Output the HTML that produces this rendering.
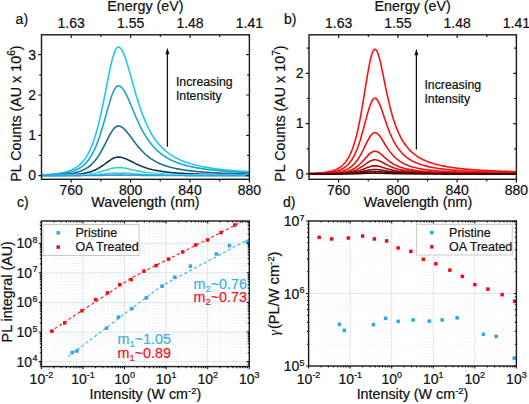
<!DOCTYPE html>
<html><head><meta charset="utf-8"><style>html,body{margin:0;padding:0;background:#fff;}svg{display:block;}</style></head><body>
<svg width="529" height="404" viewBox="0 0 529 404" font-family='"Liberation Sans", sans-serif'>
<rect width="529" height="404" fill="#fff"/>
<clipPath id="clipa"><rect x="41.5" y="34.8" width="207.9" height="144.5"/></clipPath>
<g clip-path="url(#clipa)" fill="none" stroke-width="1.6" stroke-linejoin="round">
<path d="M38.5,174.9 L39.6,174.9 L40.6,174.9 L41.6,174.8 L42.7,174.8 L43.7,174.7 L44.8,174.7 L45.8,174.6 L46.8,174.5 L47.9,174.5 L48.9,174.4 L50.0,174.3 L51.0,174.2 L52.0,174.1 L53.1,174.0 L54.1,173.9 L55.2,173.8 L56.2,173.7 L57.2,173.5 L58.3,173.4 L59.3,173.2 L60.4,173.1 L61.4,172.9 L62.4,172.7 L63.5,172.4 L64.5,172.2 L65.6,171.9 L66.6,171.7 L67.6,171.3 L68.7,171.0 L69.7,170.6 L70.8,170.2 L71.8,169.8 L72.8,169.3 L73.9,168.8 L74.9,168.2 L76.0,167.6 L77.0,166.9 L78.0,166.1 L79.1,165.3 L80.1,164.4 L81.1,163.4 L82.2,162.3 L83.2,161.1 L84.3,159.8 L85.3,158.4 L86.3,156.8 L87.4,155.1 L88.4,153.2 L89.5,151.1 L90.5,148.9 L91.5,146.5 L92.6,143.8 L93.6,141.0 L94.7,137.9 L95.7,134.5 L96.7,130.9 L97.8,127.1 L98.8,123.0 L99.9,118.6 L100.9,114.0 L101.9,109.2 L103.0,104.2 L104.0,99.1 L105.1,93.8 L106.1,88.5 L107.1,83.1 L108.2,77.8 L109.2,72.7 L110.3,67.8 L111.3,63.2 L112.3,59.1 L113.4,55.4 L114.4,52.3 L115.5,49.9 L116.5,48.2 L117.5,47.2 L118.6,47.1 L119.6,47.5 L120.7,48.4 L121.7,49.8 L122.7,51.7 L123.8,53.9 L124.8,56.6 L125.8,59.5 L126.9,62.7 L127.9,66.2 L129.0,69.7 L130.0,73.4 L131.0,77.1 L132.1,80.9 L133.1,84.6 L134.2,88.3 L135.2,92.0 L136.2,95.5 L137.3,99.0 L138.3,102.3 L139.4,105.5 L140.4,108.6 L141.4,111.5 L142.5,114.3 L143.5,117.0 L144.6,119.6 L145.6,122.0 L146.6,124.3 L147.7,126.5 L148.7,128.6 L149.8,130.6 L150.8,132.5 L151.8,134.3 L152.9,136.0 L153.9,137.6 L155.0,139.1 L156.0,140.5 L157.0,141.9 L158.1,143.2 L159.1,144.4 L160.2,145.6 L161.2,146.7 L162.2,147.8 L163.3,148.8 L164.3,149.7 L165.3,150.7 L166.4,151.5 L167.4,152.3 L168.5,153.1 L169.5,153.9 L170.5,154.6 L171.6,155.3 L172.6,155.9 L173.7,156.6 L174.7,157.2 L175.7,157.7 L176.8,158.3 L177.8,158.8 L178.9,159.3 L179.9,159.8 L180.9,160.2 L182.0,160.7 L183.0,161.1 L184.1,161.5 L185.1,161.9 L186.1,162.3 L187.2,162.6 L188.2,163.0 L189.3,163.3 L190.3,163.6 L191.3,163.9 L192.4,164.2 L193.4,164.5 L194.5,164.8 L195.5,165.0 L196.5,165.3 L197.6,165.5 L198.6,165.8 L199.7,166.0 L200.7,166.2 L201.7,166.5 L202.8,166.7 L203.8,166.9 L204.9,167.1 L205.9,167.2 L206.9,167.4 L208.0,167.6 L209.0,167.8 L210.0,167.9 L211.1,168.1 L212.1,168.3 L213.2,168.4 L214.2,168.6 L215.2,168.7 L216.3,168.8 L217.3,169.0 L218.4,169.1 L219.4,169.2 L220.4,169.3 L221.5,169.5 L222.5,169.6 L223.6,169.7 L224.6,169.8 L225.6,169.9 L226.7,170.0 L227.7,170.1 L228.8,170.2 L229.8,170.3 L230.8,170.4 L231.9,170.5 L232.9,170.6 L234.0,170.7 L235.0,170.8 L236.0,170.8 L237.1,170.9 L238.1,171.0 L239.2,171.1 L240.2,171.1 L241.2,171.2 L242.3,171.3 L243.3,171.4 L244.4,171.4 L245.4,171.5 L246.4,171.6 L247.5,171.6 L248.5,171.7 L249.5,171.7 L250.6,171.8 L251.6,171.9" stroke="#1ccaec"/>
<path d="M38.5,175.1 L39.6,175.1 L40.6,175.1 L41.6,175.0 L42.7,175.0 L43.7,175.0 L44.8,174.9 L45.8,174.9 L46.8,174.9 L47.9,174.8 L48.9,174.8 L50.0,174.7 L51.0,174.6 L52.0,174.6 L53.1,174.5 L54.1,174.4 L55.2,174.3 L56.2,174.3 L57.2,174.2 L58.3,174.1 L59.3,173.9 L60.4,173.8 L61.4,173.7 L62.4,173.6 L63.5,173.4 L64.5,173.2 L65.6,173.0 L66.6,172.8 L67.6,172.6 L68.7,172.4 L69.7,172.1 L70.8,171.8 L71.8,171.5 L72.8,171.2 L73.9,170.8 L74.9,170.4 L76.0,170.0 L77.0,169.5 L78.0,169.0 L79.1,168.4 L80.1,167.8 L81.1,167.1 L82.2,166.3 L83.2,165.5 L84.3,164.5 L85.3,163.5 L86.3,162.4 L87.4,161.2 L88.4,159.9 L89.5,158.5 L90.5,156.9 L91.5,155.2 L92.6,153.4 L93.6,151.4 L94.7,149.2 L95.7,146.9 L96.7,144.4 L97.8,141.7 L98.8,138.8 L99.9,135.8 L100.9,132.6 L101.9,129.2 L103.0,125.7 L104.0,122.1 L105.1,118.4 L106.1,114.7 L107.1,110.9 L108.2,107.2 L109.2,103.7 L110.3,100.2 L111.3,97.0 L112.3,94.1 L113.4,91.6 L114.4,89.4 L115.5,87.7 L116.5,86.5 L117.5,85.9 L118.6,85.7 L119.6,86.0 L120.7,86.6 L121.7,87.5 L122.7,88.7 L123.8,90.1 L124.8,91.8 L125.8,93.7 L126.9,95.8 L127.9,98.1 L129.0,100.4 L130.0,102.8 L131.0,105.3 L132.1,107.8 L133.1,110.3 L134.2,112.8 L135.2,115.2 L136.2,117.6 L137.3,120.0 L138.3,122.3 L139.4,124.5 L140.4,126.6 L141.4,128.7 L142.5,130.6 L143.5,132.5 L144.6,134.3 L145.6,136.1 L146.6,137.7 L147.7,139.3 L148.7,140.8 L149.8,142.2 L150.8,143.5 L151.8,144.8 L152.9,146.1 L153.9,147.2 L155.0,148.3 L156.0,149.4 L157.0,150.4 L158.1,151.3 L159.1,152.2 L160.2,153.1 L161.2,153.9 L162.2,154.7 L163.3,155.4 L164.3,156.1 L165.3,156.8 L166.4,157.4 L167.4,158.0 L168.5,158.6 L169.5,159.2 L170.5,159.7 L171.6,160.2 L172.6,160.7 L173.7,161.2 L174.7,161.6 L175.7,162.0 L176.8,162.5 L177.8,162.8 L178.9,163.2 L179.9,163.6 L180.9,163.9 L182.0,164.3 L183.0,164.6 L184.1,164.9 L185.1,165.2 L186.1,165.4 L187.2,165.7 L188.2,166.0 L189.3,166.2 L190.3,166.5 L191.3,166.7 L192.4,166.9 L193.4,167.1 L194.5,167.4 L195.5,167.6 L196.5,167.7 L197.6,167.9 L198.6,168.1 L199.7,168.3 L200.7,168.5 L201.7,168.6 L202.8,168.8 L203.8,168.9 L204.9,169.1 L205.9,169.2 L206.9,169.4 L208.0,169.5 L209.0,169.6 L210.0,169.7 L211.1,169.9 L212.1,170.0 L213.2,170.1 L214.2,170.2 L215.2,170.3 L216.3,170.4 L217.3,170.5 L218.4,170.6 L219.4,170.7 L220.4,170.8 L221.5,170.9 L222.5,171.0 L223.6,171.1 L224.6,171.2 L225.6,171.2 L226.7,171.3 L227.7,171.4 L228.8,171.5 L229.8,171.6 L230.8,171.6 L231.9,171.7 L232.9,171.8 L234.0,171.8 L235.0,171.9 L236.0,172.0 L237.1,172.0 L238.1,172.1 L239.2,172.1 L240.2,172.2 L241.2,172.2 L242.3,172.3 L243.3,172.4 L244.4,172.4 L245.4,172.5 L246.4,172.5 L247.5,172.5 L248.5,172.6 L249.5,172.6 L250.6,172.7 L251.6,172.7" stroke="#1ea2c8"/>
<path d="M38.5,175.3 L39.6,175.3 L40.6,175.3 L41.6,175.3 L42.7,175.3 L43.7,175.3 L44.8,175.2 L45.8,175.2 L46.8,175.2 L47.9,175.2 L48.9,175.1 L50.0,175.1 L51.0,175.1 L52.0,175.0 L53.1,175.0 L54.1,175.0 L55.2,174.9 L56.2,174.9 L57.2,174.8 L58.3,174.7 L59.3,174.7 L60.4,174.6 L61.4,174.5 L62.4,174.5 L63.5,174.4 L64.5,174.3 L65.6,174.2 L66.6,174.1 L67.6,174.0 L68.7,173.8 L69.7,173.7 L70.8,173.5 L71.8,173.4 L72.8,173.2 L73.9,173.0 L74.9,172.7 L76.0,172.5 L77.0,172.2 L78.0,171.9 L79.1,171.6 L80.1,171.3 L81.1,170.9 L82.2,170.5 L83.2,170.0 L84.3,169.5 L85.3,168.9 L86.3,168.3 L87.4,167.7 L88.4,167.0 L89.5,166.2 L90.5,165.3 L91.5,164.4 L92.6,163.3 L93.6,162.2 L94.7,161.0 L95.7,159.8 L96.7,158.4 L97.8,156.9 L98.8,155.3 L99.9,153.6 L100.9,151.9 L101.9,150.0 L103.0,148.1 L104.0,146.1 L105.1,144.1 L106.1,142.0 L107.1,139.9 L108.2,137.9 L109.2,135.9 L110.3,134.0 L111.3,132.3 L112.3,130.7 L113.4,129.3 L114.4,128.1 L115.5,127.1 L116.5,126.5 L117.5,126.1 L118.6,126.0 L119.6,126.2 L120.7,126.5 L121.7,127.1 L122.7,127.7 L123.8,128.6 L124.8,129.6 L125.8,130.7 L126.9,131.9 L127.9,133.2 L129.0,134.5 L130.0,135.9 L131.0,137.3 L132.1,138.7 L133.1,140.1 L134.2,141.5 L135.2,142.9 L136.2,144.3 L137.3,145.6 L138.3,146.9 L139.4,148.1 L140.4,149.3 L141.4,150.4 L142.5,151.5 L143.5,152.5 L144.6,153.5 L145.6,154.5 L146.6,155.4 L147.7,156.2 L148.7,157.0 L149.8,157.8 L150.8,158.6 L151.8,159.3 L152.9,159.9 L153.9,160.5 L155.0,161.1 L156.0,161.7 L157.0,162.2 L158.1,162.7 L159.1,163.2 L160.2,163.7 L161.2,164.1 L162.2,164.5 L163.3,164.9 L164.3,165.3 L165.3,165.7 L166.4,166.0 L167.4,166.3 L168.5,166.7 L169.5,167.0 L170.5,167.2 L171.6,167.5 L172.6,167.8 L173.7,168.0 L174.7,168.3 L175.7,168.5 L176.8,168.7 L177.8,168.9 L178.9,169.1 L179.9,169.3 L180.9,169.5 L182.0,169.6 L183.0,169.8 L184.1,170.0 L185.1,170.1 L186.1,170.3 L187.2,170.4 L188.2,170.6 L189.3,170.7 L190.3,170.8 L191.3,170.9 L192.4,171.1 L193.4,171.2 L194.5,171.3 L195.5,171.4 L196.5,171.5 L197.6,171.6 L198.6,171.7 L199.7,171.8 L200.7,171.9 L201.7,171.9 L202.8,172.0 L203.8,172.1 L204.9,172.2 L205.9,172.3 L206.9,172.3 L208.0,172.4 L209.0,172.5 L210.0,172.5 L211.1,172.6 L212.1,172.7 L213.2,172.7 L214.2,172.8 L215.2,172.8 L216.3,172.9 L217.3,172.9 L218.4,173.0 L219.4,173.1 L220.4,173.1 L221.5,173.1 L222.5,173.2 L223.6,173.2 L224.6,173.3 L225.6,173.3 L226.7,173.4 L227.7,173.4 L228.8,173.4 L229.8,173.5 L230.8,173.5 L231.9,173.6 L232.9,173.6 L234.0,173.6 L235.0,173.7 L236.0,173.7 L237.1,173.7 L238.1,173.8 L239.2,173.8 L240.2,173.8 L241.2,173.8 L242.3,173.9 L243.3,173.9 L244.4,173.9 L245.4,174.0 L246.4,174.0 L247.5,174.0 L248.5,174.0 L249.5,174.1 L250.6,174.1 L251.6,174.1" stroke="#176f8e"/>
<path d="M38.5,175.5 L39.6,175.5 L40.6,175.5 L41.6,175.5 L42.7,175.5 L43.7,175.5 L44.8,175.5 L45.8,175.5 L46.8,175.4 L47.9,175.4 L48.9,175.4 L50.0,175.4 L51.0,175.4 L52.0,175.4 L53.1,175.4 L54.1,175.4 L55.2,175.3 L56.2,175.3 L57.2,175.3 L58.3,175.3 L59.3,175.3 L60.4,175.2 L61.4,175.2 L62.4,175.2 L63.5,175.1 L64.5,175.1 L65.6,175.1 L66.6,175.0 L67.6,175.0 L68.7,174.9 L69.7,174.9 L70.8,174.8 L71.8,174.8 L72.8,174.7 L73.9,174.6 L74.9,174.5 L76.0,174.4 L77.0,174.3 L78.0,174.2 L79.1,174.1 L80.1,174.0 L81.1,173.8 L82.2,173.7 L83.2,173.5 L84.3,173.3 L85.3,173.1 L86.3,172.9 L87.4,172.6 L88.4,172.4 L89.5,172.1 L90.5,171.7 L91.5,171.4 L92.6,171.0 L93.6,170.6 L94.7,170.2 L95.7,169.7 L96.7,169.2 L97.8,168.6 L98.8,168.0 L99.9,167.4 L100.9,166.7 L101.9,166.0 L103.0,165.3 L104.0,164.6 L105.1,163.8 L106.1,163.0 L107.1,162.3 L108.2,161.5 L109.2,160.8 L110.3,160.1 L111.3,159.4 L112.3,158.8 L113.4,158.3 L114.4,157.8 L115.5,157.5 L116.5,157.2 L117.5,157.1 L118.6,157.1 L119.6,157.1 L120.7,157.2 L121.7,157.4 L122.7,157.7 L123.8,158.0 L124.8,158.4 L125.8,158.8 L126.9,159.2 L127.9,159.7 L129.0,160.2 L130.0,160.7 L131.0,161.3 L132.1,161.8 L133.1,162.3 L134.2,162.9 L135.2,163.4 L136.2,163.9 L137.3,164.4 L138.3,164.9 L139.4,165.3 L140.4,165.8 L141.4,166.2 L142.5,166.6 L143.5,167.0 L144.6,167.3 L145.6,167.7 L146.6,168.0 L147.7,168.4 L148.7,168.7 L149.8,169.0 L150.8,169.2 L151.8,169.5 L152.9,169.7 L153.9,170.0 L155.0,170.2 L156.0,170.4 L157.0,170.6 L158.1,170.8 L159.1,171.0 L160.2,171.1 L161.2,171.3 L162.2,171.5 L163.3,171.6 L164.3,171.8 L165.3,171.9 L166.4,172.0 L167.4,172.1 L168.5,172.3 L169.5,172.4 L170.5,172.5 L171.6,172.6 L172.6,172.7 L173.7,172.8 L174.7,172.9 L175.7,172.9 L176.8,173.0 L177.8,173.1 L178.9,173.2 L179.9,173.2 L180.9,173.3 L182.0,173.4 L183.0,173.4 L184.1,173.5 L185.1,173.6 L186.1,173.6 L187.2,173.7 L188.2,173.7 L189.3,173.8 L190.3,173.8 L191.3,173.9 L192.4,173.9 L193.4,173.9 L194.5,174.0 L195.5,174.0 L196.5,174.1 L197.6,174.1 L198.6,174.1 L199.7,174.2 L200.7,174.2 L201.7,174.2 L202.8,174.3 L203.8,174.3 L204.9,174.3 L205.9,174.4 L206.9,174.4 L208.0,174.4 L209.0,174.4 L210.0,174.5 L211.1,174.5 L212.1,174.5 L213.2,174.5 L214.2,174.5 L215.2,174.6 L216.3,174.6 L217.3,174.6 L218.4,174.6 L219.4,174.6 L220.4,174.7 L221.5,174.7 L222.5,174.7 L223.6,174.7 L224.6,174.7 L225.6,174.7 L226.7,174.8 L227.7,174.8 L228.8,174.8 L229.8,174.8 L230.8,174.8 L231.9,174.8 L232.9,174.8 L234.0,174.9 L235.0,174.9 L236.0,174.9 L237.1,174.9 L238.1,174.9 L239.2,174.9 L240.2,174.9 L241.2,174.9 L242.3,175.0 L243.3,175.0 L244.4,175.0 L245.4,175.0 L246.4,175.0 L247.5,175.0 L248.5,175.0 L249.5,175.0 L250.6,175.0 L251.6,175.0" stroke="#0d3552"/>
<path d="M38.5,175.6 L39.6,175.6 L40.6,175.6 L41.6,175.6 L42.7,175.5 L43.7,175.5 L44.8,175.5 L45.8,175.5 L46.8,175.5 L47.9,175.5 L48.9,175.5 L50.0,175.5 L51.0,175.5 L52.0,175.5 L53.1,175.5 L54.1,175.5 L55.2,175.5 L56.2,175.5 L57.2,175.5 L58.3,175.5 L59.3,175.5 L60.4,175.4 L61.4,175.4 L62.4,175.4 L63.5,175.4 L64.5,175.4 L65.6,175.4 L66.6,175.4 L67.6,175.3 L68.7,175.3 L69.7,175.3 L70.8,175.3 L71.8,175.2 L72.8,175.2 L73.9,175.2 L74.9,175.1 L76.0,175.1 L77.0,175.1 L78.0,175.0 L79.1,175.0 L80.1,174.9 L81.1,174.8 L82.2,174.8 L83.2,174.7 L84.3,174.6 L85.3,174.5 L86.3,174.4 L87.4,174.3 L88.4,174.2 L89.5,174.1 L90.5,173.9 L91.5,173.8 L92.6,173.6 L93.6,173.4 L94.7,173.2 L95.7,173.0 L96.7,172.8 L97.8,172.6 L98.8,172.3 L99.9,172.0 L100.9,171.7 L101.9,171.4 L103.0,171.1 L104.0,170.8 L105.1,170.5 L106.1,170.1 L107.1,169.8 L108.2,169.5 L109.2,169.1 L110.3,168.8 L111.3,168.6 L112.3,168.3 L113.4,168.1 L114.4,167.9 L115.5,167.7 L116.5,167.6 L117.5,167.6 L118.6,167.5 L119.6,167.6 L120.7,167.6 L121.7,167.7 L122.7,167.8 L123.8,168.0 L124.8,168.2 L125.8,168.4 L126.9,168.6 L127.9,168.8 L129.0,169.0 L130.0,169.3 L131.0,169.5 L132.1,169.8 L133.1,170.0 L134.2,170.2 L135.2,170.5 L136.2,170.7 L137.3,170.9 L138.3,171.1 L139.4,171.3 L140.4,171.5 L141.4,171.7 L142.5,171.9 L143.5,172.0 L144.6,172.2 L145.6,172.4 L146.6,172.5 L147.7,172.6 L148.7,172.8 L149.8,172.9 L150.8,173.0 L151.8,173.1 L152.9,173.2 L153.9,173.3 L155.0,173.4 L156.0,173.5 L157.0,173.6 L158.1,173.7 L159.1,173.7 L160.2,173.8 L161.2,173.9 L162.2,173.9 L163.3,174.0 L164.3,174.1 L165.3,174.1 L166.4,174.2 L167.4,174.2 L168.5,174.3 L169.5,174.3 L170.5,174.3 L171.6,174.4 L172.6,174.4 L173.7,174.5 L174.7,174.5 L175.7,174.5 L176.8,174.6 L177.8,174.6 L178.9,174.6 L179.9,174.7 L180.9,174.7 L182.0,174.7 L183.0,174.7 L184.1,174.8 L185.1,174.8 L186.1,174.8 L187.2,174.8 L188.2,174.8 L189.3,174.9 L190.3,174.9 L191.3,174.9 L192.4,174.9 L193.4,174.9 L194.5,175.0 L195.5,175.0 L196.5,175.0 L197.6,175.0 L198.6,175.0 L199.7,175.0 L200.7,175.0 L201.7,175.1 L202.8,175.1 L203.8,175.1 L204.9,175.1 L205.9,175.1 L206.9,175.1 L208.0,175.1 L209.0,175.1 L210.0,175.1 L211.1,175.2 L212.1,175.2 L213.2,175.2 L214.2,175.2 L215.2,175.2 L216.3,175.2 L217.3,175.2 L218.4,175.2 L219.4,175.2 L220.4,175.2 L221.5,175.2 L222.5,175.2 L223.6,175.3 L224.6,175.3 L225.6,175.3 L226.7,175.3 L227.7,175.3 L228.8,175.3 L229.8,175.3 L230.8,175.3 L231.9,175.3 L232.9,175.3 L234.0,175.3 L235.0,175.3 L236.0,175.3 L237.1,175.3 L238.1,175.3 L239.2,175.3 L240.2,175.3 L241.2,175.3 L242.3,175.3 L243.3,175.3 L244.4,175.4 L245.4,175.4 L246.4,175.4 L247.5,175.4 L248.5,175.4 L249.5,175.4 L250.6,175.4 L251.6,175.4" stroke="#26d6c4"/>
<path d="M38.5,175.6 L39.6,175.6 L40.6,175.6 L41.6,175.6 L42.7,175.6 L43.7,175.6 L44.8,175.6 L45.8,175.6 L46.8,175.6 L47.9,175.6 L48.9,175.6 L50.0,175.6 L51.0,175.6 L52.0,175.6 L53.1,175.5 L54.1,175.5 L55.2,175.5 L56.2,175.5 L57.2,175.5 L58.3,175.5 L59.3,175.5 L60.4,175.5 L61.4,175.5 L62.4,175.5 L63.5,175.5 L64.5,175.5 L65.6,175.5 L66.6,175.5 L67.6,175.5 L68.7,175.4 L69.7,175.4 L70.8,175.4 L71.8,175.4 L72.8,175.4 L73.9,175.4 L74.9,175.4 L76.0,175.3 L77.0,175.3 L78.0,175.3 L79.1,175.3 L80.1,175.2 L81.1,175.2 L82.2,175.2 L83.2,175.1 L84.3,175.1 L85.3,175.0 L86.3,175.0 L87.4,174.9 L88.4,174.9 L89.5,174.8 L90.5,174.7 L91.5,174.6 L92.6,174.6 L93.6,174.5 L94.7,174.4 L95.7,174.2 L96.7,174.1 L97.8,174.0 L98.8,173.9 L99.9,173.7 L100.9,173.6 L101.9,173.4 L103.0,173.3 L104.0,173.1 L105.1,172.9 L106.1,172.7 L107.1,172.6 L108.2,172.4 L109.2,172.2 L110.3,172.1 L111.3,171.9 L112.3,171.8 L113.4,171.6 L114.4,171.5 L115.5,171.5 L116.5,171.4 L117.5,171.4 L118.6,171.4 L119.6,171.4 L120.7,171.4 L121.7,171.5 L122.7,171.5 L123.8,171.6 L124.8,171.7 L125.8,171.8 L126.9,171.9 L127.9,172.0 L129.0,172.2 L130.0,172.3 L131.0,172.4 L132.1,172.5 L133.1,172.7 L134.2,172.8 L135.2,172.9 L136.2,173.0 L137.3,173.1 L138.3,173.2 L139.4,173.4 L140.4,173.5 L141.4,173.6 L142.5,173.6 L143.5,173.7 L144.6,173.8 L145.6,173.9 L146.6,174.0 L147.7,174.0 L148.7,174.1 L149.8,174.2 L150.8,174.2 L151.8,174.3 L152.9,174.3 L153.9,174.4 L155.0,174.4 L156.0,174.5 L157.0,174.5 L158.1,174.6 L159.1,174.6 L160.2,174.7 L161.2,174.7 L162.2,174.7 L163.3,174.8 L164.3,174.8 L165.3,174.8 L166.4,174.8 L167.4,174.9 L168.5,174.9 L169.5,174.9 L170.5,174.9 L171.6,175.0 L172.6,175.0 L173.7,175.0 L174.7,175.0 L175.7,175.0 L176.8,175.1 L177.8,175.1 L178.9,175.1 L179.9,175.1 L180.9,175.1 L182.0,175.1 L183.0,175.1 L184.1,175.2 L185.1,175.2 L186.1,175.2 L187.2,175.2 L188.2,175.2 L189.3,175.2 L190.3,175.2 L191.3,175.2 L192.4,175.2 L193.4,175.3 L194.5,175.3 L195.5,175.3 L196.5,175.3 L197.6,175.3 L198.6,175.3 L199.7,175.3 L200.7,175.3 L201.7,175.3 L202.8,175.3 L203.8,175.3 L204.9,175.3 L205.9,175.3 L206.9,175.3 L208.0,175.4 L209.0,175.4 L210.0,175.4 L211.1,175.4 L212.1,175.4 L213.2,175.4 L214.2,175.4 L215.2,175.4 L216.3,175.4 L217.3,175.4 L218.4,175.4 L219.4,175.4 L220.4,175.4 L221.5,175.4 L222.5,175.4 L223.6,175.4 L224.6,175.4 L225.6,175.4 L226.7,175.4 L227.7,175.4 L228.8,175.4 L229.8,175.4 L230.8,175.4 L231.9,175.4 L232.9,175.4 L234.0,175.4 L235.0,175.4 L236.0,175.5 L237.1,175.5 L238.1,175.5 L239.2,175.5 L240.2,175.5 L241.2,175.5 L242.3,175.5 L243.3,175.5 L244.4,175.5 L245.4,175.5 L246.4,175.5 L247.5,175.5 L248.5,175.5 L249.5,175.5 L250.6,175.5 L251.6,175.5" stroke="#f3f3cf"/>
<path d="M38.5,175.6 L39.6,175.6 L40.6,175.6 L41.6,175.6 L42.7,175.6 L43.7,175.6 L44.8,175.6 L45.8,175.6 L46.8,175.6 L47.9,175.6 L48.9,175.6 L50.0,175.6 L51.0,175.6 L52.0,175.6 L53.1,175.6 L54.1,175.6 L55.2,175.6 L56.2,175.6 L57.2,175.6 L58.3,175.6 L59.3,175.6 L60.4,175.6 L61.4,175.5 L62.4,175.5 L63.5,175.5 L64.5,175.5 L65.6,175.5 L66.6,175.5 L67.6,175.5 L68.7,175.5 L69.7,175.5 L70.8,175.5 L71.8,175.5 L72.8,175.5 L73.9,175.5 L74.9,175.5 L76.0,175.4 L77.0,175.4 L78.0,175.4 L79.1,175.4 L80.1,175.4 L81.1,175.4 L82.2,175.3 L83.2,175.3 L84.3,175.3 L85.3,175.3 L86.3,175.2 L87.4,175.2 L88.4,175.2 L89.5,175.1 L90.5,175.1 L91.5,175.1 L92.6,175.0 L93.6,174.9 L94.7,174.9 L95.7,174.8 L96.7,174.8 L97.8,174.7 L98.8,174.6 L99.9,174.5 L100.9,174.4 L101.9,174.4 L103.0,174.3 L104.0,174.2 L105.1,174.1 L106.1,174.0 L107.1,173.9 L108.2,173.8 L109.2,173.7 L110.3,173.6 L111.3,173.5 L112.3,173.4 L113.4,173.3 L114.4,173.3 L115.5,173.2 L116.5,173.2 L117.5,173.2 L118.6,173.2 L119.6,173.2 L120.7,173.2 L121.7,173.2 L122.7,173.3 L123.8,173.3 L124.8,173.4 L125.8,173.4 L126.9,173.5 L127.9,173.6 L129.0,173.6 L130.0,173.7 L131.0,173.8 L132.1,173.8 L133.1,173.9 L134.2,174.0 L135.2,174.1 L136.2,174.1 L137.3,174.2 L138.3,174.3 L139.4,174.3 L140.4,174.4 L141.4,174.4 L142.5,174.5 L143.5,174.5 L144.6,174.6 L145.6,174.6 L146.6,174.7 L147.7,174.7 L148.7,174.7 L149.8,174.8 L150.8,174.8 L151.8,174.9 L152.9,174.9 L153.9,174.9 L155.0,174.9 L156.0,175.0 L157.0,175.0 L158.1,175.0 L159.1,175.0 L160.2,175.1 L161.2,175.1 L162.2,175.1 L163.3,175.1 L164.3,175.1 L165.3,175.2 L166.4,175.2 L167.4,175.2 L168.5,175.2 L169.5,175.2 L170.5,175.2 L171.6,175.2 L172.6,175.2 L173.7,175.3 L174.7,175.3 L175.7,175.3 L176.8,175.3 L177.8,175.3 L178.9,175.3 L179.9,175.3 L180.9,175.3 L182.0,175.3 L183.0,175.3 L184.1,175.3 L185.1,175.4 L186.1,175.4 L187.2,175.4 L188.2,175.4 L189.3,175.4 L190.3,175.4 L191.3,175.4 L192.4,175.4 L193.4,175.4 L194.5,175.4 L195.5,175.4 L196.5,175.4 L197.6,175.4 L198.6,175.4 L199.7,175.4 L200.7,175.4 L201.7,175.4 L202.8,175.4 L203.8,175.4 L204.9,175.4 L205.9,175.5 L206.9,175.5 L208.0,175.5 L209.0,175.5 L210.0,175.5 L211.1,175.5 L212.1,175.5 L213.2,175.5 L214.2,175.5 L215.2,175.5 L216.3,175.5 L217.3,175.5 L218.4,175.5 L219.4,175.5 L220.4,175.5 L221.5,175.5 L222.5,175.5 L223.6,175.5 L224.6,175.5 L225.6,175.5 L226.7,175.5 L227.7,175.5 L228.8,175.5 L229.8,175.5 L230.8,175.5 L231.9,175.5 L232.9,175.5 L234.0,175.5 L235.0,175.5 L236.0,175.5 L237.1,175.5 L238.1,175.5 L239.2,175.5 L240.2,175.5 L241.2,175.5 L242.3,175.5 L243.3,175.5 L244.4,175.5 L245.4,175.5 L246.4,175.5 L247.5,175.5 L248.5,175.5 L249.5,175.5 L250.6,175.5 L251.6,175.5" stroke="#48b6ee"/>
<path d="M38.5,175.6 L39.6,175.6 L40.6,175.6 L41.6,175.6 L42.7,175.6 L43.7,175.6 L44.8,175.6 L45.8,175.6 L46.8,175.6 L47.9,175.6 L48.9,175.6 L50.0,175.6 L51.0,175.6 L52.0,175.6 L53.1,175.6 L54.1,175.6 L55.2,175.6 L56.2,175.6 L57.2,175.6 L58.3,175.6 L59.3,175.6 L60.4,175.6 L61.4,175.6 L62.4,175.6 L63.5,175.6 L64.5,175.6 L65.6,175.6 L66.6,175.6 L67.6,175.6 L68.7,175.6 L69.7,175.6 L70.8,175.6 L71.8,175.6 L72.8,175.6 L73.9,175.6 L74.9,175.6 L76.0,175.6 L77.0,175.6 L78.0,175.6 L79.1,175.6 L80.1,175.6 L81.1,175.6 L82.2,175.5 L83.2,175.5 L84.3,175.5 L85.3,175.5 L86.3,175.5 L87.4,175.5 L88.4,175.5 L89.5,175.5 L90.5,175.5 L91.5,175.5 L92.6,175.5 L93.6,175.5 L94.7,175.5 L95.7,175.4 L96.7,175.4 L97.8,175.4 L98.8,175.4 L99.9,175.4 L100.9,175.4 L101.9,175.4 L103.0,175.3 L104.0,175.3 L105.1,175.3 L106.1,175.3 L107.1,175.3 L108.2,175.2 L109.2,175.2 L110.3,175.2 L111.3,175.2 L112.3,175.2 L113.4,175.1 L114.4,175.1 L115.5,175.1 L116.5,175.1 L117.5,175.1 L118.6,175.1 L119.6,175.1 L120.7,175.1 L121.7,175.1 L122.7,175.1 L123.8,175.1 L124.8,175.2 L125.8,175.2 L126.9,175.2 L127.9,175.2 L129.0,175.2 L130.0,175.2 L131.0,175.2 L132.1,175.2 L133.1,175.3 L134.2,175.3 L135.2,175.3 L136.2,175.3 L137.3,175.3 L138.3,175.3 L139.4,175.3 L140.4,175.4 L141.4,175.4 L142.5,175.4 L143.5,175.4 L144.6,175.4 L145.6,175.4 L146.6,175.4 L147.7,175.4 L148.7,175.4 L149.8,175.4 L150.8,175.4 L151.8,175.5 L152.9,175.5 L153.9,175.5 L155.0,175.5 L156.0,175.5 L157.0,175.5 L158.1,175.5 L159.1,175.5 L160.2,175.5 L161.2,175.5 L162.2,175.5 L163.3,175.5 L164.3,175.5 L165.3,175.5 L166.4,175.5 L167.4,175.5 L168.5,175.5 L169.5,175.5 L170.5,175.5 L171.6,175.5 L172.6,175.5 L173.7,175.5 L174.7,175.5 L175.7,175.5 L176.8,175.5 L177.8,175.5 L178.9,175.5 L179.9,175.5 L180.9,175.5 L182.0,175.5 L183.0,175.5 L184.1,175.5 L185.1,175.6 L186.1,175.6 L187.2,175.6 L188.2,175.6 L189.3,175.6 L190.3,175.6 L191.3,175.6 L192.4,175.6 L193.4,175.6 L194.5,175.6 L195.5,175.6 L196.5,175.6 L197.6,175.6 L198.6,175.6 L199.7,175.6 L200.7,175.6 L201.7,175.6 L202.8,175.6 L203.8,175.6 L204.9,175.6 L205.9,175.6 L206.9,175.6 L208.0,175.6 L209.0,175.6 L210.0,175.6 L211.1,175.6 L212.1,175.6 L213.2,175.6 L214.2,175.6 L215.2,175.6 L216.3,175.6 L217.3,175.6 L218.4,175.6 L219.4,175.6 L220.4,175.6 L221.5,175.6 L222.5,175.6 L223.6,175.6 L224.6,175.6 L225.6,175.6 L226.7,175.6 L227.7,175.6 L228.8,175.6 L229.8,175.6 L230.8,175.6 L231.9,175.6 L232.9,175.6 L234.0,175.6 L235.0,175.6 L236.0,175.6 L237.1,175.6 L238.1,175.6 L239.2,175.6 L240.2,175.6 L241.2,175.6 L242.3,175.6 L243.3,175.6 L244.4,175.6 L245.4,175.6 L246.4,175.6 L247.5,175.6 L248.5,175.6 L249.5,175.6 L250.6,175.6 L251.6,175.6" stroke="#1ea6ec"/>
</g>
<rect x="41.5" y="34.8" width="207.9" height="144.5" fill="none" stroke="#1a1a1a" stroke-width="1.4"/>
<path d="M71.2,179.3v3.2 M71.2,34.8v3.2 M100.9,179.3v2.2 M100.9,34.8v2.2 M130.6,179.3v3.2 M130.6,34.8v3.2 M160.3,179.3v2.2 M160.3,34.8v2.2 M190.0,179.3v3.2 M190.0,34.8v3.2 M219.7,179.3v2.2 M219.7,34.8v2.2 M249.4,179.3v3.2 M249.4,34.8v3.2 M41.5,175.6h-3.2 M249.4,175.6h-3.2 M41.5,135.3h-3.2 M249.4,135.3h-3.2 M41.5,95.0h-3.2 M249.4,95.0h-3.2 M41.5,54.7h-3.2 M249.4,54.7h-3.2 M41.5,155.4h-2.2 M249.4,155.4h-2.2 M41.5,115.2h-2.2 M249.4,115.2h-2.2 M41.5,74.8h-2.2 M249.4,74.8h-2.2" stroke="#1a1a1a" stroke-width="1.2" fill="none"/>
<text x="71.2" y="195.3" font-size="14" text-anchor="middle" fill="#111" stroke="#111" stroke-width="0.22" >760</text>
<text x="130.6" y="195.3" font-size="14" text-anchor="middle" fill="#111" stroke="#111" stroke-width="0.22" >800</text>
<text x="190" y="195.3" font-size="14" text-anchor="middle" fill="#111" stroke="#111" stroke-width="0.22" >840</text>
<text x="249.4" y="195.3" font-size="14" text-anchor="middle" fill="#111" stroke="#111" stroke-width="0.22" >880</text>
<text x="71.2" y="28" font-size="14" text-anchor="middle" fill="#111" stroke="#111" stroke-width="0.22" >1.63</text>
<text x="130.6" y="28" font-size="14" text-anchor="middle" fill="#111" stroke="#111" stroke-width="0.22" >1.55</text>
<text x="190" y="28" font-size="14" text-anchor="middle" fill="#111" stroke="#111" stroke-width="0.22" >1.48</text>
<text x="249.4" y="28" font-size="14" text-anchor="middle" fill="#111" stroke="#111" stroke-width="0.22" >1.41</text>
<text x="36" y="180.4" font-size="14" text-anchor="end" fill="#111" stroke="#111" stroke-width="0.22" >0</text>
<text x="36" y="140.1" font-size="14" text-anchor="end" fill="#111" stroke="#111" stroke-width="0.22" >1</text>
<text x="36" y="99.8" font-size="14" text-anchor="end" fill="#111" stroke="#111" stroke-width="0.22" >2</text>
<text x="36" y="59.5" font-size="14" text-anchor="end" fill="#111" stroke="#111" stroke-width="0.22" >3</text>
<text x="145.45" y="206.6" font-size="14.3" text-anchor="middle" fill="#111" stroke="#111" stroke-width="0.22" >Wavelength (nm)</text>
<text x="145.4" y="11" font-size="14.3" text-anchor="middle" fill="#111" stroke="#111" stroke-width="0.22" >Energy (eV)</text>
<text x="15.6" y="23.5" font-size="14" text-anchor="start" fill="#111" stroke="#111" stroke-width="0.22" >a)</text>
<text transform="translate(20.6,113.6) rotate(-90)" font-size="14.3" text-anchor="middle" fill="#111" stroke="#111" stroke-width="0.22">PL Counts (AU x 10<tspan font-size="10" dy="-5.8">6</tspan><tspan dy="5.8">)</tspan></text>
<path d="M167.4,146.7V52.7" stroke="#111" stroke-width="1.3"/>
<path d="M167.4,47.7l-2,6.5h4z" fill="#111"/>
<text x="175.9" y="85.5" font-size="12.3" text-anchor="start" fill="#111" stroke="#111" stroke-width="0.22" >Increasing</text>
<text x="175.9" y="99.9" font-size="12.3" text-anchor="start" fill="#111" stroke="#111" stroke-width="0.22" >Intensity</text>
<clipPath id="clipb"><rect x="309" y="34.8" width="207.4" height="144.5"/></clipPath>
<g clip-path="url(#clipb)" fill="none" stroke-width="1.6" stroke-linejoin="round">
<path d="M306.0,173.5 L307.1,173.5 L308.1,173.5 L309.1,173.4 L310.2,173.4 L311.2,173.4 L312.3,173.3 L313.3,173.3 L314.3,173.2 L315.4,173.2 L316.4,173.1 L317.4,173.0 L318.5,173.0 L319.5,172.9 L320.6,172.8 L321.6,172.7 L322.6,172.6 L323.7,172.5 L324.7,172.3 L325.7,172.2 L326.8,172.0 L327.8,171.8 L328.9,171.6 L329.9,171.4 L330.9,171.2 L332.0,170.9 L333.0,170.6 L334.0,170.2 L335.1,169.8 L336.1,169.4 L337.1,168.9 L338.2,168.4 L339.2,167.8 L340.3,167.1 L341.3,166.3 L342.3,165.5 L343.4,164.5 L344.4,163.4 L345.4,162.2 L346.5,160.8 L347.5,159.2 L348.6,157.5 L349.6,155.5 L350.6,153.4 L351.7,150.9 L352.7,148.2 L353.7,145.2 L354.8,141.8 L355.8,138.1 L356.9,134.1 L357.9,129.6 L358.9,124.8 L360.0,119.6 L361.0,114.0 L362.0,108.1 L363.1,102.0 L364.1,95.6 L365.1,89.2 L366.2,82.7 L367.2,76.4 L368.3,70.4 L369.3,64.8 L370.3,59.9 L371.4,55.8 L372.4,52.5 L373.4,50.3 L374.5,49.3 L375.5,49.3 L376.6,50.4 L377.6,52.5 L378.6,55.5 L379.7,59.2 L380.7,63.5 L381.7,68.3 L382.8,73.3 L383.8,78.4 L384.8,83.5 L385.9,88.6 L386.9,93.5 L388.0,98.2 L389.0,102.7 L390.0,107.0 L391.1,111.0 L392.1,114.7 L393.1,118.2 L394.2,121.5 L395.2,124.5 L396.3,127.3 L397.3,129.9 L398.3,132.4 L399.4,134.6 L400.4,136.7 L401.4,138.6 L402.5,140.5 L403.5,142.1 L404.6,143.7 L405.6,145.2 L406.6,146.5 L407.7,147.8 L408.7,149.0 L409.7,150.1 L410.8,151.1 L411.8,152.1 L412.8,153.0 L413.9,153.9 L414.9,154.7 L416.0,155.4 L417.0,156.2 L418.0,156.8 L419.1,157.5 L420.1,158.1 L421.1,158.7 L422.2,159.2 L423.2,159.7 L424.3,160.2 L425.3,160.7 L426.3,161.1 L427.4,161.5 L428.4,161.9 L429.4,162.3 L430.5,162.6 L431.5,163.0 L432.6,163.3 L433.6,163.6 L434.6,163.9 L435.7,164.2 L436.7,164.5 L437.7,164.8 L438.8,165.0 L439.8,165.2 L440.8,165.5 L441.9,165.7 L442.9,165.9 L444.0,166.1 L445.0,166.3 L446.0,166.5 L447.1,166.7 L448.1,166.9 L449.1,167.0 L450.2,167.2 L451.2,167.4 L452.3,167.5 L453.3,167.6 L454.3,167.8 L455.4,167.9 L456.4,168.1 L457.4,168.2 L458.5,168.3 L459.5,168.4 L460.6,168.5 L461.6,168.7 L462.6,168.8 L463.7,168.9 L464.7,169.0 L465.7,169.1 L466.8,169.2 L467.8,169.3 L468.8,169.3 L469.9,169.4 L470.9,169.5 L472.0,169.6 L473.0,169.7 L474.0,169.8 L475.1,169.8 L476.1,169.9 L477.1,170.0 L478.2,170.0 L479.2,170.1 L480.3,170.2 L481.3,170.2 L482.3,170.3 L483.4,170.4 L484.4,170.4 L485.4,170.5 L486.5,170.5 L487.5,170.6 L488.5,170.6 L489.6,170.7 L490.6,170.7 L491.7,170.8 L492.7,170.8 L493.7,170.9 L494.8,170.9 L495.8,171.0 L496.8,171.0 L497.9,171.1 L498.9,171.1 L500.0,171.1 L501.0,171.2 L502.0,171.2 L503.1,171.3 L504.1,171.3 L505.1,171.3 L506.2,171.4 L507.2,171.4 L508.3,171.4 L509.3,171.5 L510.3,171.5 L511.4,171.5 L512.4,171.6 L513.4,171.6 L514.5,171.6 L515.5,171.7 L516.5,171.7 L517.6,171.7 L518.6,171.8" stroke="#ff1010"/>
<path d="M306.0,173.7 L307.1,173.7 L308.1,173.6 L309.1,173.6 L310.2,173.6 L311.2,173.6 L312.3,173.5 L313.3,173.5 L314.3,173.5 L315.4,173.5 L316.4,173.4 L317.4,173.4 L318.5,173.3 L319.5,173.3 L320.6,173.2 L321.6,173.2 L322.6,173.1 L323.7,173.0 L324.7,173.0 L325.7,172.9 L326.8,172.8 L327.8,172.7 L328.9,172.5 L329.9,172.4 L330.9,172.2 L332.0,172.1 L333.0,171.9 L334.0,171.7 L335.1,171.4 L336.1,171.2 L337.1,170.9 L338.2,170.6 L339.2,170.2 L340.3,169.8 L341.3,169.3 L342.3,168.8 L343.4,168.2 L344.4,167.5 L345.4,166.8 L346.5,165.9 L347.5,165.0 L348.6,163.9 L349.6,162.8 L350.6,161.4 L351.7,160.0 L352.7,158.3 L353.7,156.5 L354.8,154.4 L355.8,152.2 L356.9,149.7 L357.9,147.0 L358.9,144.1 L360.0,140.9 L361.0,137.6 L362.0,134.0 L363.1,130.2 L364.1,126.4 L365.1,122.5 L366.2,118.6 L367.2,114.7 L368.3,111.1 L369.3,107.7 L370.3,104.7 L371.4,102.2 L372.4,100.2 L373.4,98.9 L374.5,98.3 L375.5,98.3 L376.6,99.0 L377.6,100.3 L378.6,102.1 L379.7,104.3 L380.7,106.9 L381.7,109.8 L382.8,112.8 L383.8,115.9 L384.8,119.0 L385.9,122.1 L386.9,125.1 L388.0,128.0 L389.0,130.7 L390.0,133.3 L391.1,135.7 L392.1,138.0 L393.1,140.1 L394.2,142.1 L395.2,143.9 L396.3,145.6 L397.3,147.2 L398.3,148.7 L399.4,150.1 L400.4,151.3 L401.4,152.5 L402.5,153.6 L403.5,154.6 L404.6,155.6 L405.6,156.5 L406.6,157.3 L407.7,158.1 L408.7,158.8 L409.7,159.4 L410.8,160.1 L411.8,160.7 L412.8,161.2 L413.9,161.7 L414.9,162.2 L416.0,162.7 L417.0,163.1 L418.0,163.5 L419.1,163.9 L420.1,164.3 L421.1,164.6 L422.2,165.0 L423.2,165.3 L424.3,165.6 L425.3,165.9 L426.3,166.1 L427.4,166.4 L428.4,166.6 L429.4,166.9 L430.5,167.1 L431.5,167.3 L432.6,167.5 L433.6,167.7 L434.6,167.9 L435.7,168.0 L436.7,168.2 L437.7,168.4 L438.8,168.5 L439.8,168.6 L440.8,168.8 L441.9,168.9 L442.9,169.1 L444.0,169.2 L445.0,169.3 L446.0,169.4 L447.1,169.5 L448.1,169.6 L449.1,169.7 L450.2,169.8 L451.2,169.9 L452.3,170.0 L453.3,170.1 L454.3,170.2 L455.4,170.3 L456.4,170.4 L457.4,170.4 L458.5,170.5 L459.5,170.6 L460.6,170.6 L461.6,170.7 L462.6,170.8 L463.7,170.8 L464.7,170.9 L465.7,171.0 L466.8,171.0 L467.8,171.1 L468.8,171.1 L469.9,171.2 L470.9,171.2 L472.0,171.3 L473.0,171.3 L474.0,171.4 L475.1,171.4 L476.1,171.5 L477.1,171.5 L478.2,171.6 L479.2,171.6 L480.3,171.6 L481.3,171.7 L482.3,171.7 L483.4,171.8 L484.4,171.8 L485.4,171.8 L486.5,171.9 L487.5,171.9 L488.5,171.9 L489.6,172.0 L490.6,172.0 L491.7,172.0 L492.7,172.0 L493.7,172.1 L494.8,172.1 L495.8,172.1 L496.8,172.2 L497.9,172.2 L498.9,172.2 L500.0,172.2 L501.0,172.3 L502.0,172.3 L503.1,172.3 L504.1,172.3 L505.1,172.3 L506.2,172.4 L507.2,172.4 L508.3,172.4 L509.3,172.4 L510.3,172.5 L511.4,172.5 L512.4,172.5 L513.4,172.5 L514.5,172.5 L515.5,172.5 L516.5,172.6 L517.6,172.6 L518.6,172.6" stroke="#f71010"/>
<path d="M306.0,173.8 L307.1,173.8 L308.1,173.8 L309.1,173.7 L310.2,173.7 L311.2,173.7 L312.3,173.7 L313.3,173.7 L314.3,173.7 L315.4,173.7 L316.4,173.6 L317.4,173.6 L318.5,173.6 L319.5,173.6 L320.6,173.5 L321.6,173.5 L322.6,173.5 L323.7,173.4 L324.7,173.4 L325.7,173.3 L326.8,173.3 L327.8,173.2 L328.9,173.2 L329.9,173.1 L330.9,173.0 L332.0,172.9 L333.0,172.8 L334.0,172.7 L335.1,172.6 L336.1,172.4 L337.1,172.3 L338.2,172.1 L339.2,171.9 L340.3,171.6 L341.3,171.4 L342.3,171.1 L343.4,170.8 L344.4,170.4 L345.4,170.0 L346.5,169.6 L347.5,169.1 L348.6,168.5 L349.6,167.8 L350.6,167.1 L351.7,166.3 L352.7,165.4 L353.7,164.4 L354.8,163.3 L355.8,162.1 L356.9,160.7 L357.9,159.3 L358.9,157.7 L360.0,155.9 L361.0,154.1 L362.0,152.2 L363.1,150.1 L364.1,148.0 L365.1,145.9 L366.2,143.7 L367.2,141.7 L368.3,139.7 L369.3,137.8 L370.3,136.2 L371.4,134.8 L372.4,133.8 L373.4,133.0 L374.5,132.7 L375.5,132.7 L376.6,133.1 L377.6,133.8 L378.6,134.8 L379.7,136.0 L380.7,137.4 L381.7,139.0 L382.8,140.6 L383.8,142.3 L384.8,144.0 L385.9,145.7 L386.9,147.3 L388.0,148.9 L389.0,150.4 L390.0,151.8 L391.1,153.1 L392.1,154.3 L393.1,155.5 L394.2,156.6 L395.2,157.6 L396.3,158.5 L397.3,159.4 L398.3,160.2 L399.4,160.9 L400.4,161.6 L401.4,162.2 L402.5,162.8 L403.5,163.4 L404.6,163.9 L405.6,164.4 L406.6,164.8 L407.7,165.3 L408.7,165.7 L409.7,166.0 L410.8,166.4 L411.8,166.7 L412.8,167.0 L413.9,167.3 L414.9,167.5 L416.0,167.8 L417.0,168.0 L418.0,168.3 L419.1,168.5 L420.1,168.7 L421.1,168.9 L422.2,169.0 L423.2,169.2 L424.3,169.4 L425.3,169.5 L426.3,169.7 L427.4,169.8 L428.4,169.9 L429.4,170.1 L430.5,170.2 L431.5,170.3 L432.6,170.4 L433.6,170.5 L434.6,170.6 L435.7,170.7 L436.7,170.8 L437.7,170.9 L438.8,171.0 L439.8,171.0 L440.8,171.1 L441.9,171.2 L442.9,171.3 L444.0,171.3 L445.0,171.4 L446.0,171.5 L447.1,171.5 L448.1,171.6 L449.1,171.6 L450.2,171.7 L451.2,171.7 L452.3,171.8 L453.3,171.8 L454.3,171.9 L455.4,171.9 L456.4,172.0 L457.4,172.0 L458.5,172.1 L459.5,172.1 L460.6,172.1 L461.6,172.2 L462.6,172.2 L463.7,172.2 L464.7,172.3 L465.7,172.3 L466.8,172.3 L467.8,172.4 L468.8,172.4 L469.9,172.4 L470.9,172.4 L472.0,172.5 L473.0,172.5 L474.0,172.5 L475.1,172.6 L476.1,172.6 L477.1,172.6 L478.2,172.6 L479.2,172.6 L480.3,172.7 L481.3,172.7 L482.3,172.7 L483.4,172.7 L484.4,172.7 L485.4,172.8 L486.5,172.8 L487.5,172.8 L488.5,172.8 L489.6,172.8 L490.6,172.9 L491.7,172.9 L492.7,172.9 L493.7,172.9 L494.8,172.9 L495.8,172.9 L496.8,172.9 L497.9,173.0 L498.9,173.0 L500.0,173.0 L501.0,173.0 L502.0,173.0 L503.1,173.0 L504.1,173.0 L505.1,173.1 L506.2,173.1 L507.2,173.1 L508.3,173.1 L509.3,173.1 L510.3,173.1 L511.4,173.1 L512.4,173.1 L513.4,173.1 L514.5,173.2 L515.5,173.2 L516.5,173.2 L517.6,173.2 L518.6,173.2" stroke="#ee1010"/>
<path d="M306.0,173.8 L307.1,173.8 L308.1,173.8 L309.1,173.8 L310.2,173.8 L311.2,173.8 L312.3,173.8 L313.3,173.8 L314.3,173.8 L315.4,173.8 L316.4,173.8 L317.4,173.7 L318.5,173.7 L319.5,173.7 L320.6,173.7 L321.6,173.7 L322.6,173.7 L323.7,173.6 L324.7,173.6 L325.7,173.6 L326.8,173.6 L327.8,173.5 L328.9,173.5 L329.9,173.4 L330.9,173.4 L332.0,173.4 L333.0,173.3 L334.0,173.2 L335.1,173.2 L336.1,173.1 L337.1,173.0 L338.2,172.9 L339.2,172.8 L340.3,172.7 L341.3,172.5 L342.3,172.4 L343.4,172.2 L344.4,172.0 L345.4,171.8 L346.5,171.5 L347.5,171.2 L348.6,170.9 L349.6,170.6 L350.6,170.2 L351.7,169.7 L352.7,169.2 L353.7,168.7 L354.8,168.1 L355.8,167.4 L356.9,166.7 L357.9,165.9 L358.9,165.0 L360.0,164.0 L361.0,163.0 L362.0,162.0 L363.1,160.8 L364.1,159.7 L365.1,158.5 L366.2,157.4 L367.2,156.2 L368.3,155.1 L369.3,154.1 L370.3,153.2 L371.4,152.5 L372.4,151.9 L373.4,151.5 L374.5,151.3 L375.5,151.3 L376.6,151.5 L377.6,151.9 L378.6,152.4 L379.7,153.1 L380.7,153.9 L381.7,154.7 L382.8,155.6 L383.8,156.6 L384.8,157.5 L385.9,158.4 L386.9,159.3 L388.0,160.2 L389.0,161.0 L390.0,161.8 L391.1,162.5 L392.1,163.2 L393.1,163.8 L394.2,164.4 L395.2,164.9 L396.3,165.4 L397.3,165.9 L398.3,166.4 L399.4,166.8 L400.4,167.2 L401.4,167.5 L402.5,167.8 L403.5,168.1 L404.6,168.4 L405.6,168.7 L406.6,168.9 L407.7,169.2 L408.7,169.4 L409.7,169.6 L410.8,169.8 L411.8,169.9 L412.8,170.1 L413.9,170.3 L414.9,170.4 L416.0,170.6 L417.0,170.7 L418.0,170.8 L419.1,170.9 L420.1,171.0 L421.1,171.1 L422.2,171.2 L423.2,171.3 L424.3,171.4 L425.3,171.5 L426.3,171.6 L427.4,171.7 L428.4,171.7 L429.4,171.8 L430.5,171.9 L431.5,171.9 L432.6,172.0 L433.6,172.0 L434.6,172.1 L435.7,172.1 L436.7,172.2 L437.7,172.2 L438.8,172.3 L439.8,172.3 L440.8,172.4 L441.9,172.4 L442.9,172.5 L444.0,172.5 L445.0,172.5 L446.0,172.6 L447.1,172.6 L448.1,172.6 L449.1,172.7 L450.2,172.7 L451.2,172.7 L452.3,172.7 L453.3,172.8 L454.3,172.8 L455.4,172.8 L456.4,172.8 L457.4,172.9 L458.5,172.9 L459.5,172.9 L460.6,172.9 L461.6,172.9 L462.6,173.0 L463.7,173.0 L464.7,173.0 L465.7,173.0 L466.8,173.0 L467.8,173.1 L468.8,173.1 L469.9,173.1 L470.9,173.1 L472.0,173.1 L473.0,173.1 L474.0,173.1 L475.1,173.2 L476.1,173.2 L477.1,173.2 L478.2,173.2 L479.2,173.2 L480.3,173.2 L481.3,173.2 L482.3,173.2 L483.4,173.3 L484.4,173.3 L485.4,173.3 L486.5,173.3 L487.5,173.3 L488.5,173.3 L489.6,173.3 L490.6,173.3 L491.7,173.3 L492.7,173.3 L493.7,173.4 L494.8,173.4 L495.8,173.4 L496.8,173.4 L497.9,173.4 L498.9,173.4 L500.0,173.4 L501.0,173.4 L502.0,173.4 L503.1,173.4 L504.1,173.4 L505.1,173.4 L506.2,173.4 L507.2,173.4 L508.3,173.5 L509.3,173.5 L510.3,173.5 L511.4,173.5 L512.4,173.5 L513.4,173.5 L514.5,173.5 L515.5,173.5 L516.5,173.5 L517.6,173.5 L518.6,173.5" stroke="#dd0f12"/>
<path d="M306.0,173.9 L307.1,173.9 L308.1,173.9 L309.1,173.8 L310.2,173.8 L311.2,173.8 L312.3,173.8 L313.3,173.8 L314.3,173.8 L315.4,173.8 L316.4,173.8 L317.4,173.8 L318.5,173.8 L319.5,173.8 L320.6,173.8 L321.6,173.8 L322.6,173.8 L323.7,173.7 L324.7,173.7 L325.7,173.7 L326.8,173.7 L327.8,173.7 L328.9,173.6 L329.9,173.6 L330.9,173.6 L332.0,173.6 L333.0,173.5 L334.0,173.5 L335.1,173.4 L336.1,173.4 L337.1,173.3 L338.2,173.3 L339.2,173.2 L340.3,173.1 L341.3,173.0 L342.3,172.9 L343.4,172.8 L344.4,172.7 L345.4,172.6 L346.5,172.4 L347.5,172.2 L348.6,172.0 L349.6,171.8 L350.6,171.6 L351.7,171.3 L352.7,171.0 L353.7,170.7 L354.8,170.3 L355.8,169.9 L356.9,169.4 L357.9,168.9 L358.9,168.4 L360.0,167.8 L361.0,167.1 L362.0,166.5 L363.1,165.8 L364.1,165.1 L365.1,164.3 L366.2,163.6 L367.2,162.9 L368.3,162.2 L369.3,161.6 L370.3,161.0 L371.4,160.6 L372.4,160.2 L373.4,159.9 L374.5,159.8 L375.5,159.8 L376.6,160.0 L377.6,160.2 L378.6,160.5 L379.7,161.0 L380.7,161.4 L381.7,162.0 L382.8,162.5 L383.8,163.1 L384.8,163.7 L385.9,164.3 L386.9,164.8 L388.0,165.4 L389.0,165.9 L390.0,166.3 L391.1,166.8 L392.1,167.2 L393.1,167.6 L394.2,168.0 L395.2,168.3 L396.3,168.6 L397.3,168.9 L398.3,169.2 L399.4,169.5 L400.4,169.7 L401.4,169.9 L402.5,170.1 L403.5,170.3 L404.6,170.5 L405.6,170.7 L406.6,170.8 L407.7,171.0 L408.7,171.1 L409.7,171.2 L410.8,171.3 L411.8,171.4 L412.8,171.5 L413.9,171.6 L414.9,171.7 L416.0,171.8 L417.0,171.9 L418.0,172.0 L419.1,172.0 L420.1,172.1 L421.1,172.2 L422.2,172.2 L423.2,172.3 L424.3,172.4 L425.3,172.4 L426.3,172.5 L427.4,172.5 L428.4,172.5 L429.4,172.6 L430.5,172.6 L431.5,172.7 L432.6,172.7 L433.6,172.7 L434.6,172.8 L435.7,172.8 L436.7,172.8 L437.7,172.9 L438.8,172.9 L439.8,172.9 L440.8,172.9 L441.9,173.0 L442.9,173.0 L444.0,173.0 L445.0,173.0 L446.0,173.1 L447.1,173.1 L448.1,173.1 L449.1,173.1 L450.2,173.1 L451.2,173.2 L452.3,173.2 L453.3,173.2 L454.3,173.2 L455.4,173.2 L456.4,173.2 L457.4,173.3 L458.5,173.3 L459.5,173.3 L460.6,173.3 L461.6,173.3 L462.6,173.3 L463.7,173.3 L464.7,173.3 L465.7,173.4 L466.8,173.4 L467.8,173.4 L468.8,173.4 L469.9,173.4 L470.9,173.4 L472.0,173.4 L473.0,173.4 L474.0,173.4 L475.1,173.4 L476.1,173.4 L477.1,173.5 L478.2,173.5 L479.2,173.5 L480.3,173.5 L481.3,173.5 L482.3,173.5 L483.4,173.5 L484.4,173.5 L485.4,173.5 L486.5,173.5 L487.5,173.5 L488.5,173.5 L489.6,173.5 L490.6,173.5 L491.7,173.5 L492.7,173.6 L493.7,173.6 L494.8,173.6 L495.8,173.6 L496.8,173.6 L497.9,173.6 L498.9,173.6 L500.0,173.6 L501.0,173.6 L502.0,173.6 L503.1,173.6 L504.1,173.6 L505.1,173.6 L506.2,173.6 L507.2,173.6 L508.3,173.6 L509.3,173.6 L510.3,173.6 L511.4,173.6 L512.4,173.6 L513.4,173.6 L514.5,173.6 L515.5,173.6 L516.5,173.7 L517.6,173.7 L518.6,173.7" stroke="#c00d10"/>
<path d="M306.0,173.9 L307.1,173.9 L308.1,173.9 L309.1,173.9 L310.2,173.9 L311.2,173.9 L312.3,173.9 L313.3,173.9 L314.3,173.9 L315.4,173.9 L316.4,173.8 L317.4,173.8 L318.5,173.8 L319.5,173.8 L320.6,173.8 L321.6,173.8 L322.6,173.8 L323.7,173.8 L324.7,173.8 L325.7,173.8 L326.8,173.8 L327.8,173.8 L328.9,173.8 L329.9,173.7 L330.9,173.7 L332.0,173.7 L333.0,173.7 L334.0,173.7 L335.1,173.6 L336.1,173.6 L337.1,173.6 L338.2,173.5 L339.2,173.5 L340.3,173.5 L341.3,173.4 L342.3,173.4 L343.4,173.3 L344.4,173.2 L345.4,173.1 L346.5,173.1 L347.5,173.0 L348.6,172.8 L349.6,172.7 L350.6,172.6 L351.7,172.4 L352.7,172.2 L353.7,172.0 L354.8,171.8 L355.8,171.6 L356.9,171.3 L357.9,171.0 L358.9,170.7 L360.0,170.4 L361.0,170.0 L362.0,169.7 L363.1,169.3 L364.1,168.8 L365.1,168.4 L366.2,168.0 L367.2,167.6 L368.3,167.2 L369.3,166.9 L370.3,166.5 L371.4,166.3 L372.4,166.1 L373.4,165.9 L374.5,165.9 L375.5,165.9 L376.6,165.9 L377.6,166.1 L378.6,166.3 L379.7,166.5 L380.7,166.8 L381.7,167.1 L382.8,167.4 L383.8,167.7 L384.8,168.1 L385.9,168.4 L386.9,168.7 L388.0,169.0 L389.0,169.3 L390.0,169.6 L391.1,169.8 L392.1,170.1 L393.1,170.3 L394.2,170.5 L395.2,170.7 L396.3,170.9 L397.3,171.1 L398.3,171.2 L399.4,171.4 L400.4,171.5 L401.4,171.6 L402.5,171.7 L403.5,171.9 L404.6,172.0 L405.6,172.0 L406.6,172.1 L407.7,172.2 L408.7,172.3 L409.7,172.4 L410.8,172.4 L411.8,172.5 L412.8,172.6 L413.9,172.6 L414.9,172.7 L416.0,172.7 L417.0,172.8 L418.0,172.8 L419.1,172.8 L420.1,172.9 L421.1,172.9 L422.2,173.0 L423.2,173.0 L424.3,173.0 L425.3,173.0 L426.3,173.1 L427.4,173.1 L428.4,173.1 L429.4,173.2 L430.5,173.2 L431.5,173.2 L432.6,173.2 L433.6,173.2 L434.6,173.3 L435.7,173.3 L436.7,173.3 L437.7,173.3 L438.8,173.3 L439.8,173.3 L440.8,173.4 L441.9,173.4 L442.9,173.4 L444.0,173.4 L445.0,173.4 L446.0,173.4 L447.1,173.4 L448.1,173.4 L449.1,173.5 L450.2,173.5 L451.2,173.5 L452.3,173.5 L453.3,173.5 L454.3,173.5 L455.4,173.5 L456.4,173.5 L457.4,173.5 L458.5,173.5 L459.5,173.5 L460.6,173.6 L461.6,173.6 L462.6,173.6 L463.7,173.6 L464.7,173.6 L465.7,173.6 L466.8,173.6 L467.8,173.6 L468.8,173.6 L469.9,173.6 L470.9,173.6 L472.0,173.6 L473.0,173.6 L474.0,173.6 L475.1,173.6 L476.1,173.6 L477.1,173.6 L478.2,173.7 L479.2,173.7 L480.3,173.7 L481.3,173.7 L482.3,173.7 L483.4,173.7 L484.4,173.7 L485.4,173.7 L486.5,173.7 L487.5,173.7 L488.5,173.7 L489.6,173.7 L490.6,173.7 L491.7,173.7 L492.7,173.7 L493.7,173.7 L494.8,173.7 L495.8,173.7 L496.8,173.7 L497.9,173.7 L498.9,173.7 L500.0,173.7 L501.0,173.7 L502.0,173.7 L503.1,173.7 L504.1,173.7 L505.1,173.7 L506.2,173.7 L507.2,173.7 L508.3,173.7 L509.3,173.7 L510.3,173.7 L511.4,173.7 L512.4,173.8 L513.4,173.8 L514.5,173.8 L515.5,173.8 L516.5,173.8 L517.6,173.8 L518.6,173.8" stroke="#a00a0c"/>
<path d="M306.0,173.9 L307.1,173.9 L308.1,173.9 L309.1,173.9 L310.2,173.9 L311.2,173.9 L312.3,173.9 L313.3,173.9 L314.3,173.9 L315.4,173.9 L316.4,173.9 L317.4,173.9 L318.5,173.9 L319.5,173.9 L320.6,173.9 L321.6,173.9 L322.6,173.9 L323.7,173.8 L324.7,173.8 L325.7,173.8 L326.8,173.8 L327.8,173.8 L328.9,173.8 L329.9,173.8 L330.9,173.8 L332.0,173.8 L333.0,173.8 L334.0,173.8 L335.1,173.8 L336.1,173.7 L337.1,173.7 L338.2,173.7 L339.2,173.7 L340.3,173.7 L341.3,173.6 L342.3,173.6 L343.4,173.6 L344.4,173.5 L345.4,173.5 L346.5,173.4 L347.5,173.4 L348.6,173.3 L349.6,173.2 L350.6,173.2 L351.7,173.1 L352.7,173.0 L353.7,172.9 L354.8,172.8 L355.8,172.6 L356.9,172.5 L357.9,172.3 L358.9,172.2 L360.0,172.0 L361.0,171.8 L362.0,171.6 L363.1,171.3 L364.1,171.1 L365.1,170.9 L366.2,170.7 L367.2,170.4 L368.3,170.2 L369.3,170.0 L370.3,169.9 L371.4,169.7 L372.4,169.6 L373.4,169.5 L374.5,169.5 L375.5,169.5 L376.6,169.5 L377.6,169.6 L378.6,169.7 L379.7,169.8 L380.7,170.0 L381.7,170.2 L382.8,170.3 L383.8,170.5 L384.8,170.7 L385.9,170.9 L386.9,171.0 L388.0,171.2 L389.0,171.4 L390.0,171.5 L391.1,171.7 L392.1,171.8 L393.1,171.9 L394.2,172.0 L395.2,172.1 L396.3,172.2 L397.3,172.3 L398.3,172.4 L399.4,172.5 L400.4,172.6 L401.4,172.6 L402.5,172.7 L403.5,172.8 L404.6,172.8 L405.6,172.9 L406.6,172.9 L407.7,173.0 L408.7,173.0 L409.7,173.1 L410.8,173.1 L411.8,173.1 L412.8,173.2 L413.9,173.2 L414.9,173.2 L416.0,173.2 L417.0,173.3 L418.0,173.3 L419.1,173.3 L420.1,173.3 L421.1,173.4 L422.2,173.4 L423.2,173.4 L424.3,173.4 L425.3,173.4 L426.3,173.4 L427.4,173.5 L428.4,173.5 L429.4,173.5 L430.5,173.5 L431.5,173.5 L432.6,173.5 L433.6,173.5 L434.6,173.5 L435.7,173.6 L436.7,173.6 L437.7,173.6 L438.8,173.6 L439.8,173.6 L440.8,173.6 L441.9,173.6 L442.9,173.6 L444.0,173.6 L445.0,173.6 L446.0,173.6 L447.1,173.6 L448.1,173.7 L449.1,173.7 L450.2,173.7 L451.2,173.7 L452.3,173.7 L453.3,173.7 L454.3,173.7 L455.4,173.7 L456.4,173.7 L457.4,173.7 L458.5,173.7 L459.5,173.7 L460.6,173.7 L461.6,173.7 L462.6,173.7 L463.7,173.7 L464.7,173.7 L465.7,173.7 L466.8,173.7 L467.8,173.7 L468.8,173.7 L469.9,173.7 L470.9,173.7 L472.0,173.7 L473.0,173.8 L474.0,173.8 L475.1,173.8 L476.1,173.8 L477.1,173.8 L478.2,173.8 L479.2,173.8 L480.3,173.8 L481.3,173.8 L482.3,173.8 L483.4,173.8 L484.4,173.8 L485.4,173.8 L486.5,173.8 L487.5,173.8 L488.5,173.8 L489.6,173.8 L490.6,173.8 L491.7,173.8 L492.7,173.8 L493.7,173.8 L494.8,173.8 L495.8,173.8 L496.8,173.8 L497.9,173.8 L498.9,173.8 L500.0,173.8 L501.0,173.8 L502.0,173.8 L503.1,173.8 L504.1,173.8 L505.1,173.8 L506.2,173.8 L507.2,173.8 L508.3,173.8 L509.3,173.8 L510.3,173.8 L511.4,173.8 L512.4,173.8 L513.4,173.8 L514.5,173.8 L515.5,173.8 L516.5,173.8 L517.6,173.8 L518.6,173.8" stroke="#7e0608"/>
<path d="M306.0,173.9 L307.1,173.9 L308.1,173.9 L309.1,173.9 L310.2,173.9 L311.2,173.9 L312.3,173.9 L313.3,173.9 L314.3,173.9 L315.4,173.9 L316.4,173.9 L317.4,173.9 L318.5,173.9 L319.5,173.9 L320.6,173.9 L321.6,173.9 L322.6,173.9 L323.7,173.9 L324.7,173.9 L325.7,173.9 L326.8,173.9 L327.8,173.9 L328.9,173.9 L329.9,173.9 L330.9,173.9 L332.0,173.8 L333.0,173.8 L334.0,173.8 L335.1,173.8 L336.1,173.8 L337.1,173.8 L338.2,173.8 L339.2,173.8 L340.3,173.8 L341.3,173.8 L342.3,173.7 L343.4,173.7 L344.4,173.7 L345.4,173.7 L346.5,173.7 L347.5,173.6 L348.6,173.6 L349.6,173.6 L350.6,173.5 L351.7,173.5 L352.7,173.4 L353.7,173.4 L354.8,173.3 L355.8,173.3 L356.9,173.2 L357.9,173.1 L358.9,173.0 L360.0,172.9 L361.0,172.8 L362.0,172.7 L363.1,172.6 L364.1,172.5 L365.1,172.4 L366.2,172.2 L367.2,172.1 L368.3,172.0 L369.3,171.9 L370.3,171.8 L371.4,171.8 L372.4,171.7 L373.4,171.7 L374.5,171.6 L375.5,171.6 L376.6,171.7 L377.6,171.7 L378.6,171.8 L379.7,171.8 L380.7,171.9 L381.7,172.0 L382.8,172.1 L383.8,172.2 L384.8,172.3 L385.9,172.4 L386.9,172.4 L388.0,172.5 L389.0,172.6 L390.0,172.7 L391.1,172.8 L392.1,172.8 L393.1,172.9 L394.2,172.9 L395.2,173.0 L396.3,173.1 L397.3,173.1 L398.3,173.1 L399.4,173.2 L400.4,173.2 L401.4,173.3 L402.5,173.3 L403.5,173.3 L404.6,173.4 L405.6,173.4 L406.6,173.4 L407.7,173.4 L408.7,173.4 L409.7,173.5 L410.8,173.5 L411.8,173.5 L412.8,173.5 L413.9,173.5 L414.9,173.6 L416.0,173.6 L417.0,173.6 L418.0,173.6 L419.1,173.6 L420.1,173.6 L421.1,173.6 L422.2,173.6 L423.2,173.6 L424.3,173.7 L425.3,173.7 L426.3,173.7 L427.4,173.7 L428.4,173.7 L429.4,173.7 L430.5,173.7 L431.5,173.7 L432.6,173.7 L433.6,173.7 L434.6,173.7 L435.7,173.7 L436.7,173.7 L437.7,173.7 L438.8,173.7 L439.8,173.7 L440.8,173.7 L441.9,173.8 L442.9,173.8 L444.0,173.8 L445.0,173.8 L446.0,173.8 L447.1,173.8 L448.1,173.8 L449.1,173.8 L450.2,173.8 L451.2,173.8 L452.3,173.8 L453.3,173.8 L454.3,173.8 L455.4,173.8 L456.4,173.8 L457.4,173.8 L458.5,173.8 L459.5,173.8 L460.6,173.8 L461.6,173.8 L462.6,173.8 L463.7,173.8 L464.7,173.8 L465.7,173.8 L466.8,173.8 L467.8,173.8 L468.8,173.8 L469.9,173.8 L470.9,173.8 L472.0,173.8 L473.0,173.8 L474.0,173.8 L475.1,173.8 L476.1,173.8 L477.1,173.8 L478.2,173.8 L479.2,173.8 L480.3,173.8 L481.3,173.8 L482.3,173.8 L483.4,173.8 L484.4,173.8 L485.4,173.8 L486.5,173.8 L487.5,173.8 L488.5,173.8 L489.6,173.8 L490.6,173.8 L491.7,173.8 L492.7,173.8 L493.7,173.8 L494.8,173.8 L495.8,173.8 L496.8,173.8 L497.9,173.8 L498.9,173.8 L500.0,173.9 L501.0,173.9 L502.0,173.9 L503.1,173.9 L504.1,173.9 L505.1,173.9 L506.2,173.9 L507.2,173.9 L508.3,173.9 L509.3,173.9 L510.3,173.9 L511.4,173.9 L512.4,173.9 L513.4,173.9 L514.5,173.9 L515.5,173.9 L516.5,173.9 L517.6,173.9 L518.6,173.9" stroke="#5e0304"/>
<path d="M306.0,173.9 L307.1,173.9 L308.1,173.9 L309.1,173.9 L310.2,173.9 L311.2,173.9 L312.3,173.9 L313.3,173.9 L314.3,173.9 L315.4,173.9 L316.4,173.9 L317.4,173.9 L318.5,173.9 L319.5,173.9 L320.6,173.9 L321.6,173.9 L322.6,173.9 L323.7,173.9 L324.7,173.9 L325.7,173.9 L326.8,173.9 L327.8,173.9 L328.9,173.9 L329.9,173.9 L330.9,173.9 L332.0,173.9 L333.0,173.9 L334.0,173.9 L335.1,173.9 L336.1,173.9 L337.1,173.9 L338.2,173.9 L339.2,173.9 L340.3,173.9 L341.3,173.9 L342.3,173.8 L343.4,173.8 L344.4,173.8 L345.4,173.8 L346.5,173.8 L347.5,173.8 L348.6,173.8 L349.6,173.8 L350.6,173.8 L351.7,173.8 L352.7,173.7 L353.7,173.7 L354.8,173.7 L355.8,173.7 L356.9,173.7 L357.9,173.6 L358.9,173.6 L360.0,173.6 L361.0,173.5 L362.0,173.5 L363.1,173.5 L364.1,173.4 L365.1,173.4 L366.2,173.3 L367.2,173.3 L368.3,173.3 L369.3,173.2 L370.3,173.2 L371.4,173.2 L372.4,173.2 L373.4,173.2 L374.5,173.1 L375.5,173.1 L376.6,173.2 L377.6,173.2 L378.6,173.2 L379.7,173.2 L380.7,173.2 L381.7,173.3 L382.8,173.3 L383.8,173.3 L384.8,173.4 L385.9,173.4 L386.9,173.4 L388.0,173.4 L389.0,173.5 L390.0,173.5 L391.1,173.5 L392.1,173.5 L393.1,173.6 L394.2,173.6 L395.2,173.6 L396.3,173.6 L397.3,173.6 L398.3,173.6 L399.4,173.7 L400.4,173.7 L401.4,173.7 L402.5,173.7 L403.5,173.7 L404.6,173.7 L405.6,173.7 L406.6,173.7 L407.7,173.7 L408.7,173.7 L409.7,173.8 L410.8,173.8 L411.8,173.8 L412.8,173.8 L413.9,173.8 L414.9,173.8 L416.0,173.8 L417.0,173.8 L418.0,173.8 L419.1,173.8 L420.1,173.8 L421.1,173.8 L422.2,173.8 L423.2,173.8 L424.3,173.8 L425.3,173.8 L426.3,173.8 L427.4,173.8 L428.4,173.8 L429.4,173.8 L430.5,173.8 L431.5,173.8 L432.6,173.8 L433.6,173.8 L434.6,173.8 L435.7,173.8 L436.7,173.8 L437.7,173.8 L438.8,173.8 L439.8,173.8 L440.8,173.8 L441.9,173.9 L442.9,173.9 L444.0,173.9 L445.0,173.9 L446.0,173.9 L447.1,173.9 L448.1,173.9 L449.1,173.9 L450.2,173.9 L451.2,173.9 L452.3,173.9 L453.3,173.9 L454.3,173.9 L455.4,173.9 L456.4,173.9 L457.4,173.9 L458.5,173.9 L459.5,173.9 L460.6,173.9 L461.6,173.9 L462.6,173.9 L463.7,173.9 L464.7,173.9 L465.7,173.9 L466.8,173.9 L467.8,173.9 L468.8,173.9 L469.9,173.9 L470.9,173.9 L472.0,173.9 L473.0,173.9 L474.0,173.9 L475.1,173.9 L476.1,173.9 L477.1,173.9 L478.2,173.9 L479.2,173.9 L480.3,173.9 L481.3,173.9 L482.3,173.9 L483.4,173.9 L484.4,173.9 L485.4,173.9 L486.5,173.9 L487.5,173.9 L488.5,173.9 L489.6,173.9 L490.6,173.9 L491.7,173.9 L492.7,173.9 L493.7,173.9 L494.8,173.9 L495.8,173.9 L496.8,173.9 L497.9,173.9 L498.9,173.9 L500.0,173.9 L501.0,173.9 L502.0,173.9 L503.1,173.9 L504.1,173.9 L505.1,173.9 L506.2,173.9 L507.2,173.9 L508.3,173.9 L509.3,173.9 L510.3,173.9 L511.4,173.9 L512.4,173.9 L513.4,173.9 L514.5,173.9 L515.5,173.9 L516.5,173.9 L517.6,173.9 L518.6,173.9" stroke="#400202"/>
</g>
<rect x="309" y="34.8" width="207.4" height="144.5" fill="none" stroke="#1a1a1a" stroke-width="1.4"/>
<path d="M338.6,179.3v3.2 M338.6,34.8v3.2 M368.3,179.3v2.2 M368.3,34.8v2.2 M397.9,179.3v3.2 M397.9,34.8v3.2 M427.5,179.3v2.2 M427.5,34.8v2.2 M457.1,179.3v3.2 M457.1,34.8v3.2 M486.8,179.3v2.2 M486.8,34.8v2.2 M516.4,179.3v3.2 M516.4,34.8v3.2 M309.0,173.9h-3.2 M516.4,173.9h-3.2 M309.0,123.6h-3.2 M516.4,123.6h-3.2 M309.0,73.3h-3.2 M516.4,73.3h-3.2 M309.0,148.8h-2.2 M516.4,148.8h-2.2 M309.0,98.5h-2.2 M516.4,98.5h-2.2 M309.0,48.2h-2.2 M516.4,48.2h-2.2" stroke="#1a1a1a" stroke-width="1.2" fill="none"/>
<text x="338.63" y="195.3" font-size="14" text-anchor="middle" fill="#111" stroke="#111" stroke-width="0.22" >760</text>
<text x="397.89" y="195.3" font-size="14" text-anchor="middle" fill="#111" stroke="#111" stroke-width="0.22" >800</text>
<text x="457.14" y="195.3" font-size="14" text-anchor="middle" fill="#111" stroke="#111" stroke-width="0.22" >840</text>
<text x="516.4" y="195.3" font-size="14" text-anchor="middle" fill="#111" stroke="#111" stroke-width="0.22" >880</text>
<text x="338.63" y="28" font-size="14" text-anchor="middle" fill="#111" stroke="#111" stroke-width="0.22" >1.63</text>
<text x="397.89" y="28" font-size="14" text-anchor="middle" fill="#111" stroke="#111" stroke-width="0.22" >1.55</text>
<text x="457.14" y="28" font-size="14" text-anchor="middle" fill="#111" stroke="#111" stroke-width="0.22" >1.48</text>
<text x="516.4" y="28" font-size="14" text-anchor="middle" fill="#111" stroke="#111" stroke-width="0.22" >1.41</text>
<text x="303.5" y="178.7" font-size="14" text-anchor="end" fill="#111" stroke="#111" stroke-width="0.22" >0</text>
<text x="303.5" y="128.4" font-size="14" text-anchor="end" fill="#111" stroke="#111" stroke-width="0.22" >1</text>
<text x="303.5" y="78.1" font-size="14" text-anchor="end" fill="#111" stroke="#111" stroke-width="0.22" >2</text>
<text x="418" y="206.6" font-size="14.3" text-anchor="middle" fill="#111" stroke="#111" stroke-width="0.22" >Wavelength (nm)</text>
<text x="412.7" y="11" font-size="14.3" text-anchor="middle" fill="#111" stroke="#111" stroke-width="0.22" >Energy (eV)</text>
<text x="283.9" y="23.5" font-size="14" text-anchor="start" fill="#111" stroke="#111" stroke-width="0.22" >b)</text>
<text transform="translate(285.3,113.6) rotate(-90)" font-size="14.3" text-anchor="middle" fill="#111" stroke="#111" stroke-width="0.22">PL Counts (AU x 10<tspan font-size="10" dy="-5.8">7</tspan><tspan dy="5.8">)</tspan></text>
<path d="M416.4,149.5V53.8" stroke="#111" stroke-width="1.3"/>
<path d="M416.4,48.8l-2,6.5h4z" fill="#111"/>
<text x="424.4" y="88.9" font-size="12.3" text-anchor="start" fill="#111" stroke="#111" stroke-width="0.22" >Increasing</text>
<text x="424.4" y="103.3" font-size="12.3" text-anchor="start" fill="#111" stroke="#111" stroke-width="0.22" >Intensity</text>
<clipPath id="clipc"><rect x="41.4" y="221" width="207.9" height="145.6"/></clipPath>
<g clip-path="url(#clipc)">
<path d="M53.9,221.0V366.6 M61.2,221.0V366.6 M66.4,221.0V366.6 M70.5,221.0V366.6 M73.8,221.0V366.6 M76.5,221.0V366.6 M79.0,221.0V366.6 M81.1,221.0V366.6 M95.5,221.0V366.6 M102.8,221.0V366.6 M108.0,221.0V366.6 M112.0,221.0V366.6 M115.3,221.0V366.6 M118.1,221.0V366.6 M120.5,221.0V366.6 M122.7,221.0V366.6 M137.1,221.0V366.6 M144.4,221.0V366.6 M149.6,221.0V366.6 M153.6,221.0V366.6 M156.9,221.0V366.6 M159.7,221.0V366.6 M162.1,221.0V366.6 M164.2,221.0V366.6 M178.7,221.0V366.6 M186.0,221.0V366.6 M191.2,221.0V366.6 M195.2,221.0V366.6 M198.5,221.0V366.6 M201.3,221.0V366.6 M203.7,221.0V366.6 M205.8,221.0V366.6 M220.2,221.0V366.6 M227.6,221.0V366.6 M232.8,221.0V366.6 M236.8,221.0V366.6 M240.1,221.0V366.6 M242.9,221.0V366.6 M245.3,221.0V366.6 M247.4,221.0V366.6 M41.4,366.2H249.3 M41.4,364.5H249.3 M41.4,363.0H249.3 M41.4,352.7H249.3 M41.4,347.5H249.3 M41.4,343.8H249.3 M41.4,340.9H249.3 M41.4,338.6H249.3 M41.4,336.6H249.3 M41.4,334.9H249.3 M41.4,333.4H249.3 M41.4,323.1H249.3 M41.4,317.9H249.3 M41.4,314.2H249.3 M41.4,311.3H249.3 M41.4,309.0H249.3 M41.4,307.0H249.3 M41.4,305.3H249.3 M41.4,303.8H249.3 M41.4,293.5H249.3 M41.4,288.3H249.3 M41.4,284.6H249.3 M41.4,281.7H249.3 M41.4,279.4H249.3 M41.4,277.4H249.3 M41.4,275.7H249.3 M41.4,274.2H249.3 M41.4,263.9H249.3 M41.4,258.7H249.3 M41.4,255.0H249.3 M41.4,252.1H249.3 M41.4,249.8H249.3 M41.4,247.8H249.3 M41.4,246.1H249.3 M41.4,244.6H249.3 M41.4,234.3H249.3 M41.4,229.1H249.3 M41.4,225.4H249.3 M41.4,222.5H249.3" stroke="#eaeef1" stroke-width="1" stroke-dasharray="1 2" fill="none"/>
<path d="M83.0,221.0V366.6 M124.6,221.0V366.6 M166.1,221.0V366.6 M207.7,221.0V366.6 M41.4,361.6H249.3 M41.4,332.0H249.3 M41.4,302.4H249.3 M41.4,272.8H249.3 M41.4,243.2H249.3" stroke="#dfe5e9" stroke-width="1" fill="none"/>
<path d="M50,331.7 L133,277.1 L244,220.8" stroke="#f0282a" stroke-width="1.15" stroke-dasharray="3.2 2.3" fill="none"/><path d="M68,356.6 L161.5,286.0 L250,238.6" stroke="#40b4e4" stroke-width="1.15" stroke-dasharray="3.2 2.3" fill="none"/>
<rect x="70.5" y="350.8" width="3.5" height="3.5" fill="#2ca8e4"/>
<rect x="75.2" y="349.2" width="3.5" height="3.5" fill="#2ca8e4"/>
<rect x="104.7" y="326.4" width="3.5" height="3.5" fill="#2ca8e4"/>
<rect x="116.7" y="315.4" width="3.5" height="3.5" fill="#2ca8e4"/>
<rect x="130.1" y="306.9" width="3.5" height="3.5" fill="#2ca8e4"/>
<rect x="144.6" y="296.1" width="3.5" height="3.5" fill="#2ca8e4"/>
<rect x="160.4" y="284.4" width="3.5" height="3.5" fill="#2ca8e4"/>
<rect x="172.9" y="275.4" width="3.5" height="3.5" fill="#2ca8e4"/>
<rect x="188.7" y="264.4" width="3.5" height="3.5" fill="#2ca8e4"/>
<rect x="214.6" y="252.2" width="3.5" height="3.5" fill="#2ca8e4"/>
<rect x="227.7" y="243.9" width="3.5" height="3.5" fill="#2ca8e4"/>
<rect x="245.8" y="240.2" width="3.5" height="3.5" fill="#2ca8e4"/>
<rect x="50.2" y="329.4" width="3.5" height="3.5" fill="#f40a14"/>
<rect x="63.0" y="321.1" width="3.5" height="3.5" fill="#f40a14"/>
<rect x="80.2" y="309.1" width="3.5" height="3.5" fill="#f40a14"/>
<rect x="93.8" y="297.9" width="3.5" height="3.5" fill="#f40a14"/>
<rect x="105.8" y="291.1" width="3.5" height="3.5" fill="#f40a14"/>
<rect x="118.0" y="282.9" width="3.5" height="3.5" fill="#f40a14"/>
<rect x="129.4" y="277.8" width="3.5" height="3.5" fill="#f40a14"/>
<rect x="142.2" y="269.4" width="3.5" height="3.5" fill="#f40a14"/>
<rect x="154.4" y="263.9" width="3.5" height="3.5" fill="#f40a14"/>
<rect x="166.8" y="257.4" width="3.5" height="3.5" fill="#f40a14"/>
<rect x="180.9" y="250.2" width="3.5" height="3.5" fill="#f40a14"/>
<rect x="193.8" y="243.2" width="3.5" height="3.5" fill="#f40a14"/>
<rect x="205.8" y="238.2" width="3.5" height="3.5" fill="#f40a14"/>
<rect x="219.3" y="230.8" width="3.5" height="3.5" fill="#f40a14"/>
<rect x="233.1" y="223.2" width="3.5" height="3.5" fill="#f40a14"/>
</g>
<rect x="41.4" y="221" width="207.9" height="145.6" fill="none" stroke="#1a1a1a" stroke-width="1.4"/>
<path d="M41.4,366.6v2.6 M41.4,221.0v2.6 M53.9,366.6v1.6 M53.9,221.0v1.6 M61.2,366.6v1.6 M61.2,221.0v1.6 M66.4,366.6v1.6 M66.4,221.0v1.6 M70.5,366.6v1.6 M70.5,221.0v1.6 M73.8,366.6v1.6 M73.8,221.0v1.6 M76.5,366.6v1.6 M76.5,221.0v1.6 M79.0,366.6v1.6 M79.0,221.0v1.6 M81.1,366.6v1.6 M81.1,221.0v1.6 M83.0,366.6v2.6 M83.0,221.0v2.6 M95.5,366.6v1.6 M95.5,221.0v1.6 M102.8,366.6v1.6 M102.8,221.0v1.6 M108.0,366.6v1.6 M108.0,221.0v1.6 M112.0,366.6v1.6 M112.0,221.0v1.6 M115.3,366.6v1.6 M115.3,221.0v1.6 M118.1,366.6v1.6 M118.1,221.0v1.6 M120.5,366.6v1.6 M120.5,221.0v1.6 M122.7,366.6v1.6 M122.7,221.0v1.6 M124.6,366.6v2.6 M124.6,221.0v2.6 M137.1,366.6v1.6 M137.1,221.0v1.6 M144.4,366.6v1.6 M144.4,221.0v1.6 M149.6,366.6v1.6 M149.6,221.0v1.6 M153.6,366.6v1.6 M153.6,221.0v1.6 M156.9,366.6v1.6 M156.9,221.0v1.6 M159.7,366.6v1.6 M159.7,221.0v1.6 M162.1,366.6v1.6 M162.1,221.0v1.6 M164.2,366.6v1.6 M164.2,221.0v1.6 M166.1,366.6v2.6 M166.1,221.0v2.6 M178.7,366.6v1.6 M178.7,221.0v1.6 M186.0,366.6v1.6 M186.0,221.0v1.6 M191.2,366.6v1.6 M191.2,221.0v1.6 M195.2,366.6v1.6 M195.2,221.0v1.6 M198.5,366.6v1.6 M198.5,221.0v1.6 M201.3,366.6v1.6 M201.3,221.0v1.6 M203.7,366.6v1.6 M203.7,221.0v1.6 M205.8,366.6v1.6 M205.8,221.0v1.6 M207.7,366.6v2.6 M207.7,221.0v2.6 M220.2,366.6v1.6 M220.2,221.0v1.6 M227.6,366.6v1.6 M227.6,221.0v1.6 M232.8,366.6v1.6 M232.8,221.0v1.6 M236.8,366.6v1.6 M236.8,221.0v1.6 M240.1,366.6v1.6 M240.1,221.0v1.6 M242.9,366.6v1.6 M242.9,221.0v1.6 M245.3,366.6v1.6 M245.3,221.0v1.6 M247.4,366.6v1.6 M247.4,221.0v1.6 M249.3,366.6v2.6 M249.3,221.0v2.6 M41.4,366.2h-1.6 M249.3,366.2h-1.6 M41.4,364.5h-1.6 M249.3,364.5h-1.6 M41.4,363.0h-1.6 M249.3,363.0h-1.6 M41.4,361.6h-2.6 M249.3,361.6h-2.6 M41.4,352.7h-1.6 M249.3,352.7h-1.6 M41.4,347.5h-1.6 M249.3,347.5h-1.6 M41.4,343.8h-1.6 M249.3,343.8h-1.6 M41.4,340.9h-1.6 M249.3,340.9h-1.6 M41.4,338.6h-1.6 M249.3,338.6h-1.6 M41.4,336.6h-1.6 M249.3,336.6h-1.6 M41.4,334.9h-1.6 M249.3,334.9h-1.6 M41.4,333.4h-1.6 M249.3,333.4h-1.6 M41.4,332.0h-2.6 M249.3,332.0h-2.6 M41.4,323.1h-1.6 M249.3,323.1h-1.6 M41.4,317.9h-1.6 M249.3,317.9h-1.6 M41.4,314.2h-1.6 M249.3,314.2h-1.6 M41.4,311.3h-1.6 M249.3,311.3h-1.6 M41.4,309.0h-1.6 M249.3,309.0h-1.6 M41.4,307.0h-1.6 M249.3,307.0h-1.6 M41.4,305.3h-1.6 M249.3,305.3h-1.6 M41.4,303.8h-1.6 M249.3,303.8h-1.6 M41.4,302.4h-2.6 M249.3,302.4h-2.6 M41.4,293.5h-1.6 M249.3,293.5h-1.6 M41.4,288.3h-1.6 M249.3,288.3h-1.6 M41.4,284.6h-1.6 M249.3,284.6h-1.6 M41.4,281.7h-1.6 M249.3,281.7h-1.6 M41.4,279.4h-1.6 M249.3,279.4h-1.6 M41.4,277.4h-1.6 M249.3,277.4h-1.6 M41.4,275.7h-1.6 M249.3,275.7h-1.6 M41.4,274.2h-1.6 M249.3,274.2h-1.6 M41.4,272.8h-2.6 M249.3,272.8h-2.6 M41.4,263.9h-1.6 M249.3,263.9h-1.6 M41.4,258.7h-1.6 M249.3,258.7h-1.6 M41.4,255.0h-1.6 M249.3,255.0h-1.6 M41.4,252.1h-1.6 M249.3,252.1h-1.6 M41.4,249.8h-1.6 M249.3,249.8h-1.6 M41.4,247.8h-1.6 M249.3,247.8h-1.6 M41.4,246.1h-1.6 M249.3,246.1h-1.6 M41.4,244.6h-1.6 M249.3,244.6h-1.6 M41.4,243.2h-2.6 M249.3,243.2h-2.6 M41.4,234.3h-1.6 M249.3,234.3h-1.6 M41.4,229.1h-1.6 M249.3,229.1h-1.6 M41.4,225.4h-1.6 M249.3,225.4h-1.6 M41.4,222.5h-1.6 M249.3,222.5h-1.6" stroke="#1a1a1a" stroke-width="1.1" fill="none"/>
<text x="41.4" y="383.6" font-size="14" text-anchor="middle" fill="#111" stroke="#111" stroke-width="0.22">10<tspan font-size="9" dy="-5.5">-2</tspan></text>
<text x="83.0" y="383.6" font-size="14" text-anchor="middle" fill="#111" stroke="#111" stroke-width="0.22">10<tspan font-size="9" dy="-5.5">-1</tspan></text>
<text x="124.6" y="383.6" font-size="14" text-anchor="middle" fill="#111" stroke="#111" stroke-width="0.22">10<tspan font-size="9" dy="-5.5">0</tspan></text>
<text x="166.1" y="383.6" font-size="14" text-anchor="middle" fill="#111" stroke="#111" stroke-width="0.22">10<tspan font-size="9" dy="-5.5">1</tspan></text>
<text x="207.7" y="383.6" font-size="14" text-anchor="middle" fill="#111" stroke="#111" stroke-width="0.22">10<tspan font-size="9" dy="-5.5">2</tspan></text>
<text x="249.3" y="383.6" font-size="14" text-anchor="middle" fill="#111" stroke="#111" stroke-width="0.22">10<tspan font-size="9" dy="-5.5">3</tspan></text>
<text x="32.1" y="366.6" font-size="14" text-anchor="end" fill="#111" stroke="#111" stroke-width="0.22">10</text>
<text x="32.4" y="361.1" font-size="9" fill="#111" stroke="#111" stroke-width="0.22">4</text>
<text x="32.1" y="337.0" font-size="14" text-anchor="end" fill="#111" stroke="#111" stroke-width="0.22">10</text>
<text x="32.4" y="331.5" font-size="9" fill="#111" stroke="#111" stroke-width="0.22">5</text>
<text x="32.1" y="307.4" font-size="14" text-anchor="end" fill="#111" stroke="#111" stroke-width="0.22">10</text>
<text x="32.4" y="301.9" font-size="9" fill="#111" stroke="#111" stroke-width="0.22">6</text>
<text x="32.1" y="277.8" font-size="14" text-anchor="end" fill="#111" stroke="#111" stroke-width="0.22">10</text>
<text x="32.4" y="272.3" font-size="9" fill="#111" stroke="#111" stroke-width="0.22">7</text>
<text x="32.1" y="248.2" font-size="14" text-anchor="end" fill="#111" stroke="#111" stroke-width="0.22">10</text>
<text x="32.4" y="242.7" font-size="9" fill="#111" stroke="#111" stroke-width="0.22">8</text>
<text x="145.35" y="399.3" font-size="14.3" text-anchor="middle" fill="#111" stroke="#111" stroke-width="0.22" >Intensity (W cm<tspan font-size="9.5" dy="-5">-2</tspan><tspan dy="5">)</tspan></text>
<text x="17" y="206.7" font-size="14" text-anchor="start" fill="#111" stroke="#111" stroke-width="0.22" >c)</text>
<text transform="translate(12,291.8) rotate(-90)" font-size="14.3" text-anchor="middle" fill="#111" stroke="#111" stroke-width="0.22">PL integral (AU)</text>
<rect x="43" y="224.5" width="96" height="31.0" fill="#fff" stroke="#c8c8c8" stroke-width="1"/>
<rect x="56.5" y="231.1" width="3.5" height="3.5" fill="#2ca8e4"/>
<rect x="56.5" y="245.3" width="3.5" height="3.5" fill="#f40a14"/>
<text x="75.5" y="237" font-size="12.5" text-anchor="start" fill="#111" stroke="#111" stroke-width="0.22" >Pristine</text>
<text x="75.5" y="251.4" font-size="12.5" text-anchor="start" fill="#111" stroke="#111" stroke-width="0.22" >OA Treated</text>
<text x="193.5" y="288.5" font-size="14.3" fill="#3cb2e4" stroke="#3cb2e4" stroke-width="0.22">m<tspan font-size="9.5" dy="3">2</tspan><tspan dy="-3">~0.76</tspan></text>
<text x="193.5" y="302.2" font-size="14.3" fill="#f0141e" stroke="#f0141e" stroke-width="0.22">m<tspan font-size="9.5" dy="3">2</tspan><tspan dy="-3">~0.73</tspan></text>
<text x="117.5" y="344.3" font-size="14.3" fill="#3cb2e4" stroke="#3cb2e4" stroke-width="0.22">m<tspan font-size="9.5" dy="3">1</tspan><tspan dy="-3">~1.05</tspan></text>
<text x="117.5" y="358.1" font-size="14.3" fill="#f0141e" stroke="#f0141e" stroke-width="0.22">m<tspan font-size="9.5" dy="3">1</tspan><tspan dy="-3">~0.89</tspan></text>
<clipPath id="clipd"><rect x="308.6" y="221" width="207.8" height="145"/></clipPath>
<g clip-path="url(#clipd)">
<path d="M321.1,221.0V366.0 M328.4,221.0V366.0 M333.6,221.0V366.0 M337.6,221.0V366.0 M340.9,221.0V366.0 M343.7,221.0V366.0 M346.1,221.0V366.0 M348.3,221.0V366.0 M362.7,221.0V366.0 M370.0,221.0V366.0 M375.2,221.0V366.0 M379.2,221.0V366.0 M382.5,221.0V366.0 M385.3,221.0V366.0 M387.7,221.0V366.0 M389.8,221.0V366.0 M404.2,221.0V366.0 M411.5,221.0V366.0 M416.7,221.0V366.0 M420.8,221.0V366.0 M424.1,221.0V366.0 M426.8,221.0V366.0 M429.3,221.0V366.0 M431.4,221.0V366.0 M445.8,221.0V366.0 M453.1,221.0V366.0 M458.3,221.0V366.0 M462.3,221.0V366.0 M465.6,221.0V366.0 M468.4,221.0V366.0 M470.8,221.0V366.0 M472.9,221.0V366.0 M487.4,221.0V366.0 M494.7,221.0V366.0 M499.9,221.0V366.0 M503.9,221.0V366.0 M507.2,221.0V366.0 M510.0,221.0V366.0 M512.4,221.0V366.0 M514.5,221.0V366.0 M308.6,344.2H516.4 M308.6,331.4H516.4 M308.6,322.4H516.4 M308.6,315.3H516.4 M308.6,309.6H516.4 M308.6,304.7H516.4 M308.6,300.5H516.4 M308.6,296.8H516.4 M308.6,271.7H516.4 M308.6,258.9H516.4 M308.6,249.9H516.4 M308.6,242.8H516.4 M308.6,237.1H516.4 M308.6,232.2H516.4 M308.6,228.0H516.4 M308.6,224.3H516.4" stroke="#eef1f3" stroke-width="1" stroke-dasharray="1 2" fill="none"/>
<path d="M350.2,221.0V366.0 M391.7,221.0V366.0 M433.3,221.0V366.0 M474.8,221.0V366.0 M308.6,293.5H516.4" stroke="#e0e6ea" stroke-width="1" fill="none"/>

<rect x="337.6" y="322.6" width="3.5" height="3.5" fill="#2ca8e4"/>
<rect x="342.6" y="328.6" width="3.5" height="3.5" fill="#2ca8e4"/>
<rect x="371.6" y="322.9" width="3.5" height="3.5" fill="#2ca8e4"/>
<rect x="383.9" y="316.6" width="3.5" height="3.5" fill="#2ca8e4"/>
<rect x="396.4" y="319.6" width="3.5" height="3.5" fill="#2ca8e4"/>
<rect x="411.4" y="318.2" width="3.5" height="3.5" fill="#2ca8e4"/>
<rect x="427.6" y="319.4" width="3.5" height="3.5" fill="#2ca8e4"/>
<rect x="440.4" y="318.2" width="3.5" height="3.5" fill="#2ca8e4"/>
<rect x="455.4" y="316.1" width="3.5" height="3.5" fill="#2ca8e4"/>
<rect x="481.6" y="332.6" width="3.5" height="3.5" fill="#2ca8e4"/>
<rect x="494.4" y="334.6" width="3.5" height="3.5" fill="#2ca8e4"/>
<rect x="512.5" y="356.4" width="3.5" height="3.5" fill="#2ca8e4"/>
<rect x="317.4" y="235.6" width="3.5" height="3.5" fill="#f40a14"/>
<rect x="329.9" y="237.2" width="3.5" height="3.5" fill="#f40a14"/>
<rect x="346.6" y="236.3" width="3.5" height="3.5" fill="#f40a14"/>
<rect x="360.9" y="234.3" width="3.5" height="3.5" fill="#f40a14"/>
<rect x="372.6" y="237.2" width="3.5" height="3.5" fill="#f40a14"/>
<rect x="384.9" y="239.2" width="3.5" height="3.5" fill="#f40a14"/>
<rect x="396.4" y="246.2" width="3.5" height="3.5" fill="#f40a14"/>
<rect x="409.1" y="249.6" width="3.5" height="3.5" fill="#f40a14"/>
<rect x="421.6" y="257.6" width="3.5" height="3.5" fill="#f40a14"/>
<rect x="434.1" y="262.1" width="3.5" height="3.5" fill="#f40a14"/>
<rect x="448.1" y="268.4" width="3.5" height="3.5" fill="#f40a14"/>
<rect x="460.6" y="274.6" width="3.5" height="3.5" fill="#f40a14"/>
<rect x="473.1" y="282.9" width="3.5" height="3.5" fill="#f40a14"/>
<rect x="486.2" y="287.4" width="3.5" height="3.5" fill="#f40a14"/>
<rect x="500.4" y="292.9" width="3.5" height="3.5" fill="#f40a14"/>
<rect x="512.9" y="299.6" width="3.5" height="3.5" fill="#f40a14"/>
</g>
<rect x="308.6" y="221" width="207.8" height="145" fill="none" stroke="#1a1a1a" stroke-width="1.4"/>
<path d="M308.6,366.0v2.6 M308.6,221.0v2.6 M321.1,366.0v1.6 M321.1,221.0v1.6 M328.4,366.0v1.6 M328.4,221.0v1.6 M333.6,366.0v1.6 M333.6,221.0v1.6 M337.6,366.0v1.6 M337.6,221.0v1.6 M340.9,366.0v1.6 M340.9,221.0v1.6 M343.7,366.0v1.6 M343.7,221.0v1.6 M346.1,366.0v1.6 M346.1,221.0v1.6 M348.3,366.0v1.6 M348.3,221.0v1.6 M350.2,366.0v2.6 M350.2,221.0v2.6 M362.7,366.0v1.6 M362.7,221.0v1.6 M370.0,366.0v1.6 M370.0,221.0v1.6 M375.2,366.0v1.6 M375.2,221.0v1.6 M379.2,366.0v1.6 M379.2,221.0v1.6 M382.5,366.0v1.6 M382.5,221.0v1.6 M385.3,366.0v1.6 M385.3,221.0v1.6 M387.7,366.0v1.6 M387.7,221.0v1.6 M389.8,366.0v1.6 M389.8,221.0v1.6 M391.7,366.0v2.6 M391.7,221.0v2.6 M404.2,366.0v1.6 M404.2,221.0v1.6 M411.5,366.0v1.6 M411.5,221.0v1.6 M416.7,366.0v1.6 M416.7,221.0v1.6 M420.8,366.0v1.6 M420.8,221.0v1.6 M424.1,366.0v1.6 M424.1,221.0v1.6 M426.8,366.0v1.6 M426.8,221.0v1.6 M429.3,366.0v1.6 M429.3,221.0v1.6 M431.4,366.0v1.6 M431.4,221.0v1.6 M433.3,366.0v2.6 M433.3,221.0v2.6 M445.8,366.0v1.6 M445.8,221.0v1.6 M453.1,366.0v1.6 M453.1,221.0v1.6 M458.3,366.0v1.6 M458.3,221.0v1.6 M462.3,366.0v1.6 M462.3,221.0v1.6 M465.6,366.0v1.6 M465.6,221.0v1.6 M468.4,366.0v1.6 M468.4,221.0v1.6 M470.8,366.0v1.6 M470.8,221.0v1.6 M472.9,366.0v1.6 M472.9,221.0v1.6 M474.8,366.0v2.6 M474.8,221.0v2.6 M487.4,366.0v1.6 M487.4,221.0v1.6 M494.7,366.0v1.6 M494.7,221.0v1.6 M499.9,366.0v1.6 M499.9,221.0v1.6 M503.9,366.0v1.6 M503.9,221.0v1.6 M507.2,366.0v1.6 M507.2,221.0v1.6 M510.0,366.0v1.6 M510.0,221.0v1.6 M512.4,366.0v1.6 M512.4,221.0v1.6 M514.5,366.0v1.6 M514.5,221.0v1.6 M516.4,366.0v2.6 M516.4,221.0v2.6 M308.6,366.0h-2.6 M516.4,366.0h-2.6 M308.6,344.2h-1.6 M516.4,344.2h-1.6 M308.6,331.4h-1.6 M516.4,331.4h-1.6 M308.6,322.4h-1.6 M516.4,322.4h-1.6 M308.6,315.3h-1.6 M516.4,315.3h-1.6 M308.6,309.6h-1.6 M516.4,309.6h-1.6 M308.6,304.7h-1.6 M516.4,304.7h-1.6 M308.6,300.5h-1.6 M516.4,300.5h-1.6 M308.6,296.8h-1.6 M516.4,296.8h-1.6 M308.6,293.5h-2.6 M516.4,293.5h-2.6 M308.6,271.7h-1.6 M516.4,271.7h-1.6 M308.6,258.9h-1.6 M516.4,258.9h-1.6 M308.6,249.9h-1.6 M516.4,249.9h-1.6 M308.6,242.8h-1.6 M516.4,242.8h-1.6 M308.6,237.1h-1.6 M516.4,237.1h-1.6 M308.6,232.2h-1.6 M516.4,232.2h-1.6 M308.6,228.0h-1.6 M516.4,228.0h-1.6 M308.6,224.3h-1.6 M516.4,224.3h-1.6 M308.6,221.0h-2.6 M516.4,221.0h-2.6" stroke="#1a1a1a" stroke-width="1.1" fill="none"/>
<text x="308.6" y="383.6" font-size="14" text-anchor="middle" fill="#111" stroke="#111" stroke-width="0.22">10<tspan font-size="9" dy="-5.5">-2</tspan></text>
<text x="350.2" y="383.6" font-size="14" text-anchor="middle" fill="#111" stroke="#111" stroke-width="0.22">10<tspan font-size="9" dy="-5.5">-1</tspan></text>
<text x="391.7" y="383.6" font-size="14" text-anchor="middle" fill="#111" stroke="#111" stroke-width="0.22">10<tspan font-size="9" dy="-5.5">0</tspan></text>
<text x="433.3" y="383.6" font-size="14" text-anchor="middle" fill="#111" stroke="#111" stroke-width="0.22">10<tspan font-size="9" dy="-5.5">1</tspan></text>
<text x="474.8" y="383.6" font-size="14" text-anchor="middle" fill="#111" stroke="#111" stroke-width="0.22">10<tspan font-size="9" dy="-5.5">2</tspan></text>
<text x="516.4" y="383.6" font-size="14" text-anchor="middle" fill="#111" stroke="#111" stroke-width="0.22">10<tspan font-size="9" dy="-5.5">3</tspan></text>
<text x="299.3" y="371.0" font-size="14" text-anchor="end" fill="#111" stroke="#111" stroke-width="0.22">10</text>
<text x="299.6" y="365.5" font-size="9" fill="#111" stroke="#111" stroke-width="0.22">5</text>
<text x="299.3" y="298.5" font-size="14" text-anchor="end" fill="#111" stroke="#111" stroke-width="0.22">10</text>
<text x="299.6" y="293.0" font-size="9" fill="#111" stroke="#111" stroke-width="0.22">6</text>
<text x="299.3" y="226.0" font-size="14" text-anchor="end" fill="#111" stroke="#111" stroke-width="0.22">10</text>
<text x="299.6" y="220.5" font-size="9" fill="#111" stroke="#111" stroke-width="0.22">7</text>
<text x="412.5" y="399.3" font-size="14.3" text-anchor="middle" fill="#111" stroke="#111" stroke-width="0.22" >Intensity (W cm<tspan font-size="9.5" dy="-5">-2</tspan><tspan dy="5">)</tspan></text>
<text x="283" y="206.6" font-size="14" text-anchor="start" fill="#111" stroke="#111" stroke-width="0.22" >d)</text>
<text transform="translate(279,293.6) rotate(-90)" font-size="14.6" text-anchor="middle" fill="#111" stroke="#111" stroke-width="0.22"><tspan font-family="Liberation Serif" font-style="italic" font-size="14">γ</tspan><tspan dx="1">(</tspan>PL/W cm<tspan font-size="9.5" dy="-5.5">-2</tspan><tspan dy="5.5">)</tspan></text>
<rect x="416.6" y="224.3" width="95.60000000000002" height="30.69999999999999" fill="#fff" stroke="#c8c8c8" stroke-width="1"/>
<rect x="430.1" y="230.9" width="3.5" height="3.5" fill="#2ca8e4"/>
<rect x="430.1" y="245.10000000000002" width="3.5" height="3.5" fill="#f40a14"/>
<text x="449.1" y="236.8" font-size="12.5" text-anchor="start" fill="#111" stroke="#111" stroke-width="0.22" >Pristine</text>
<text x="449.1" y="251.2" font-size="12.5" text-anchor="start" fill="#111" stroke="#111" stroke-width="0.22" >OA Treated</text>
</svg>
</body></html>
